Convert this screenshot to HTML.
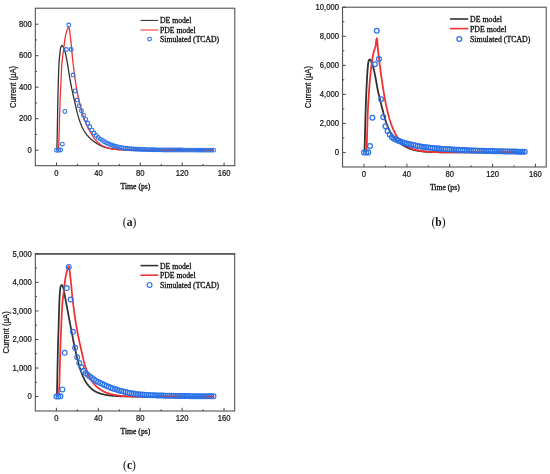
<!DOCTYPE html>
<html><head><meta charset="utf-8"><title>Figure</title>
<style>html,body{margin:0;padding:0;background:#fff}svg{display:block}</style>
</head><body>
<svg width="550" height="474" viewBox="0 0 550 474">
<rect width="550" height="474" fill="#fff"/>
<g>
<path d="M56.81 150.2 L56.92 147.39 L57.02 143.94 L57.13 139.66 L57.23 134.61 L57.34 129.14 L57.44 123.59 L57.54 117.78 L57.65 111.56 L57.75 105.47 L57.86 100.05 L57.96 95.33 L58.06 90.91 L58.17 86.8 L58.27 83.02 L58.38 79.57 L58.48 76.34 L58.59 73.2 L58.69 70.22 L58.79 67.48 L58.9 65.05 L59 63.01 L59.11 61.42 L59.21 60.07 L59.32 58.88 L59.42 57.81 L59.52 56.84 L59.63 55.94 L59.73 55.07 L59.84 54.21 L59.94 53.32 L60.05 52.37 L60.15 51.37 L60.25 50.39 L60.36 49.49 L60.46 48.74 L60.57 48.21 L60.67 47.86 L60.77 47.53 L60.88 47.23 L60.98 46.94 L61.09 46.67 L61.19 46.43 L61.3 46.22 L61.4 46.04 L61.5 45.89 L61.61 45.76 L61.71 45.68 L61.82 45.63 L61.92 45.62 L62.03 45.64 L62.13 45.68 L62.23 45.73 L62.34 45.81 L62.44 45.9 L62.55 46.01 L62.65 46.13 L62.76 46.27 L62.86 46.42 L62.96 46.58 L63.07 46.75 L63.17 46.92 L63.28 47.11 L63.38 47.29 L63.48 47.49 L63.59 47.68 L63.69 47.88 L63.8 48.07 L63.9 48.28 L64.01 48.5 L64.11 48.75 L64.21 49.03 L64.32 49.32 L64.42 49.63 L64.53 49.97 L64.63 50.31 L64.74 50.67 L64.84 51.04 L64.94 51.42 L65.05 51.81 L65.15 52.21 L65.26 52.61 L65.36 53.01 L65.46 53.42 L65.57 53.85 L65.67 54.29 L65.78 54.75 L65.88 55.23 L65.99 55.72 L66.09 56.22 L66.19 56.74 L66.3 57.26 L66.4 57.8 L66.51 58.34 L66.61 58.9 L66.72 59.45 L66.82 60.02 L66.92 60.58 L67.03 61.15 L67.13 61.72 L67.24 62.29 L67.34 62.87 L67.45 63.47 L67.55 64.08 L67.65 64.7 L67.76 65.34 L67.86 65.98 L67.97 66.64 L68.07 67.3 L68.17 67.97 L68.28 68.64 L68.38 69.31 L68.49 69.99 L68.59 70.68 L68.7 71.36 L68.8 72.04 L68.9 72.72 L69.01 73.4 L69.11 74.07 L69.22 74.74 L69.32 75.4 L69.43 76.05 L69.53 76.7 L69.63 77.33 L69.74 77.95 L69.84 78.57 L69.95 79.16 L70.05 79.75 L70.16 80.32 L70.26 80.88 L70.36 81.43 L70.47 81.99 L70.57 82.53 L70.68 83.08 L70.78 83.62 L70.88 84.15 L70.99 84.68 L71.09 85.21 L71.2 85.74 L71.3 86.26 L71.41 86.77 L71.51 87.29 L71.61 87.8 L71.72 88.3 L71.82 88.8 L71.93 89.3 L72.03 89.8 L72.14 90.3 L72.24 90.79 L72.34 91.28 L72.45 91.76 L72.55 92.25 L72.66 92.73 L72.76 93.21 L72.86 93.68 L72.97 94.16 L73.07 94.63 L73.18 95.1 L73.28 95.57 L73.39 96.04 L73.49 96.5 L73.59 96.97 L73.7 97.43 L73.8 97.89 L73.91 98.35 L74.01 98.81 L74.12 99.27 L74.22 99.73 L74.32 100.19 L74.43 100.64 L74.53 101.1 L74.64 101.56 L74.74 102.02 L74.85 102.48 L74.95 102.94 L75.05 103.4 L75.16 103.86 L75.26 104.32 L75.37 104.78 L75.47 105.24 L75.57 105.7 L75.68 106.15 L75.78 106.6 L75.89 107.06 L75.99 107.51 L76.1 107.96 L76.2 108.4 L76.3 108.85 L76.41 109.29 L76.51 109.72 L76.62 110.16 L76.72 110.59 L76.83 111.02 L76.93 111.44 L77.03 111.86 L77.14 112.28 L77.24 112.69 L77.35 113.1 L77.45 113.5 L77.56 113.9 L77.66 114.29 L77.76 114.68 L77.87 115.06 L77.97 115.44 L78.08 115.81 L78.18 116.17 L78.28 116.53 L78.39 116.88 L78.49 117.23 L78.6 117.56 L78.7 117.9 L78.81 118.22 L78.91 118.54 L79.01 118.86 L79.12 119.18 L79.22 119.49 L79.33 119.8 L79.43 120.11 L79.54 120.42 L79.64 120.72 L79.74 121.02 L79.85 121.31 L79.95 121.61 L80.06 121.9 L80.16 122.19 L80.26 122.47 L80.37 122.75 L80.47 123.03 L80.58 123.3 L80.68 123.57 L80.79 123.84 L80.89 124.11 L80.99 124.37 L81.1 124.63 L81.2 124.88 L81.31 125.13 L81.41 125.38 L81.52 125.63 L81.62 125.87 L81.72 126.11 L81.83 126.34 L81.93 126.58 L82.04 126.8 L82.14 127.03 L82.25 127.25 L82.35 127.47 L82.45 127.68 L82.56 127.89 L82.66 128.1 L82.77 128.3 L82.87 128.51 L82.97 128.71 L83.08 128.91 L83.18 129.1 L83.29 129.3 L83.39 129.49 L83.5 129.68 L83.6 129.87 L83.7 130.06 L83.81 130.25 L83.91 130.43 L84.02 130.62 L84.12 130.8 L84.23 130.98 L84.33 131.15 L84.43 131.33 L84.54 131.5 L84.64 131.67 L84.75 131.84 L84.85 132.01 L84.95 132.18 L85.06 132.34 L85.16 132.51 L85.27 132.67 L85.37 132.82 L85.48 132.98 L85.58 133.14 L85.68 133.29 L85.79 133.44 L85.89 133.59 L86 133.73 L86.1 133.88 L86.21 134.02 L86.31 134.16 L86.41 134.3 L86.52 134.44 L86.62 134.57 L86.73 134.71 L86.83 134.84 L86.94 134.97 L87.04 135.09 L87.14 135.22 L87.25 135.34 L87.35 135.46 L87.46 135.58 L87.56 135.7 L87.66 135.81 L87.77 135.93 L87.87 136.05 L87.98 136.16 L88.08 136.28 L88.19 136.39 L88.29 136.5 L88.39 136.61 L88.5 136.72 L88.6 136.83 L88.71 136.94 L88.81 137.05 L88.92 137.16 L89.02 137.27 L89.12 137.37 L89.23 137.48 L89.33 137.58 L89.44 137.68 L89.54 137.79 L89.65 137.89 L89.75 137.99 L89.85 138.09 L89.96 138.19 L90.06 138.29 L90.17 138.38 L90.27 138.48 L90.37 138.58 L90.48 138.67 L90.58 138.77 L90.69 138.86 L90.79 138.96 L90.9 139.05 L91 139.14 L91.1 139.23 L91.21 139.33 L91.31 139.42 L91.42 139.51 L91.52 139.59 L91.63 139.68 L91.73 139.77 L91.83 139.86 L91.94 139.94 L92.04 140.03 L92.15 140.12 L92.25 140.2 L92.35 140.29 L92.46 140.37 L92.56 140.45 L92.67 140.53 L92.77 140.62 L92.88 140.7 L92.98 140.78 L93.08 140.86 L93.19 140.94 L93.29 141.02 L93.4 141.1 L93.5 141.18 L93.61 141.25 L93.71 141.33 L93.81 141.41 L93.92 141.48 L94.02 141.56 L94.13 141.64 L94.23 141.71 L94.34 141.79 L94.44 141.86 L94.54 141.93 L94.65 142.01 L94.75 142.08 L94.86 142.15 L94.96 142.22 L95.06 142.3 L95.17 142.37 L95.27 142.44 L95.38 142.51 L95.48 142.58 L95.59 142.65 L95.69 142.72 L95.79 142.79 L95.9 142.86 L96 142.93 L96.11 142.99 L96.21 143.06 L96.32 143.13 L96.42 143.2 L96.52 143.27 L96.63 143.33 L96.73 143.4 L96.84 143.46 L96.94 143.53 L97.05 143.6 L97.15 143.66 L97.25 143.73 L97.36 143.79 L97.46 143.85 L97.57 143.92 L97.67 143.98 L97.77 144.04 L97.88 144.1 L97.98 144.17 L98.09 144.23 L98.19 144.29 L98.3 144.35 L98.4 144.41 L98.61 144.53 L98.99 144.74 L99.38 144.95 L99.76 145.15 L100.15 145.34 L100.53 145.53 L100.92 145.71 L101.3 145.88 L101.69 146.04 L102.07 146.19 L102.46 146.34 L102.84 146.49 L103.23 146.63 L103.61 146.77 L103.99 146.91 L104.38 147.04 L104.76 147.17 L105.15 147.3 L105.53 147.42 L105.92 147.54 L106.3 147.65 L106.69 147.76 L107.07 147.86 L107.46 147.96 L107.84 148.05 L108.23 148.14 L108.61 148.22 L109 148.29 L109.38 148.36 L109.76 148.43 L110.15 148.5 L110.53 148.56 L110.92 148.63 L111.3 148.69 L111.69 148.75 L112.07 148.81 L112.46 148.87 L112.84 148.92 L113.23 148.98 L113.61 149.03 L114 149.08 L114.38 149.13 L114.77 149.18 L115.15 149.22 L115.53 149.27 L115.92 149.31 L116.3 149.35 L116.69 149.38 L117.07 149.42 L117.46 149.45 L117.84 149.48 L118.23 149.51 L118.61 149.53 L119 149.55 L119.38 149.57 L119.77 149.59 L120.15 149.61 L120.54 149.62 L120.92 149.64 L121.3 149.66 L121.69 149.67 L122.07 149.69 L122.46 149.71 L122.84 149.72 L123.23 149.74 L123.61 149.75 L124 149.77 L124.38 149.78 L124.77 149.8 L125.15 149.81 L125.54 149.83 L125.92 149.84 L126.31 149.85 L126.69 149.87 L127.07 149.88 L127.46 149.89 L127.84 149.9 L128.23 149.92 L128.61 149.93 L129 149.94 L129.38 149.95 L129.77 149.96 L130.15 149.97 L130.54 149.98 L130.92 149.99 L131.31 150 L131.69 150.01 L132.08 150.02 L132.46 150.03 L132.84 150.03 L133.23 150.04 L133.61 150.05 L134 150.06 L134.38 150.06 L134.77 150.07 L135.15 150.08 L135.54 150.08 L135.92 150.09 L136.31 150.09 L136.69 150.1 L137.08 150.1 L137.46 150.1 L137.85 150.11 L138.23 150.11 L138.61 150.11 L139 150.12 L139.38 150.12 L139.77 150.12 L140.15 150.12 L140.54 150.12 L140.92 150.12 L141.31 150.12 L141.69 150.12 L142.08 150.13 L142.46 150.13 L142.85 150.13 L143.23 150.13 L143.62 150.13 L144 150.13 L144.38 150.13 L144.77 150.13 L145.15 150.13 L145.54 150.13 L145.92 150.13 L146.31 150.14 L146.69 150.14 L147.08 150.14 L147.46 150.14 L147.85 150.14 L148.23 150.14 L148.62 150.14 L149 150.14 L149.39 150.14 L149.77 150.14 L150.15 150.14 L150.54 150.14 L150.92 150.15 L151.31 150.15 L151.69 150.15 L152.08 150.15 L152.46 150.15 L152.85 150.15 L153.23 150.15 L153.62 150.15 L154 150.15 L154.39 150.15 L154.77 150.15 L155.16 150.15 L155.54 150.15 L155.92 150.15 L156.31 150.16 L156.69 150.16 L157.08 150.16 L157.46 150.16 L157.85 150.16 L158.23 150.16 L158.62 150.16 L159 150.16 L159.39 150.16 L159.77 150.16 L160.16 150.16 L160.54 150.16 L160.93 150.16 L161.31 150.16 L161.69 150.16 L162.08 150.16 L162.46 150.17 L162.85 150.17 L163.23 150.17 L163.62 150.17 L164 150.17 L164.39 150.17 L164.77 150.17 L165.16 150.17 L165.54 150.17 L165.93 150.17 L166.31 150.17 L166.7 150.17 L167.08 150.17 L167.46 150.17 L167.85 150.17 L168.23 150.17 L168.62 150.17 L169 150.17 L169.39 150.17 L169.77 150.18 L170.16 150.18 L170.54 150.18 L170.93 150.18 L171.31 150.18 L171.7 150.18 L172.08 150.18 L172.47 150.18 L172.85 150.18 L173.23 150.18 L173.62 150.18 L174 150.18 L174.39 150.18 L174.77 150.18 L175.16 150.18 L175.54 150.18 L175.93 150.18 L176.31 150.18 L176.7 150.18 L177.08 150.18 L177.47 150.18 L177.85 150.18 L178.24 150.18 L178.62 150.19 L179 150.19 L179.39 150.19 L179.77 150.19 L180.16 150.19 L180.54 150.19 L180.93 150.19 L181.31 150.19 L181.7 150.19 L182.08 150.19 L182.47 150.19 L182.85 150.19 L183.24 150.19 L183.62 150.19 L184.01 150.19 L184.39 150.19 L184.77 150.19 L185.16 150.19 L185.54 150.19 L185.93 150.19 L186.31 150.19 L186.7 150.19 L187.08 150.19 L187.47 150.19 L187.85 150.19 L188.24 150.19 L188.62 150.19 L189.01 150.19 L189.39 150.19 L189.78 150.19 L190.16 150.19 L190.54 150.19 L190.93 150.19 L191.31 150.19 L191.7 150.19 L192.08 150.19 L192.47 150.19 L192.85 150.2 L193.24 150.2 L193.62 150.2 L194.01 150.2 L194.39 150.2 L194.78 150.2 L195.16 150.2 L195.55 150.2 L195.93 150.2 L196.31 150.2 L196.7 150.2 L197.08 150.2 L197.47 150.2 L197.85 150.2 L198.24 150.2 L198.62 150.2 L199.01 150.2 L199.39 150.2 L199.78 150.2 L200.16 150.2 L200.55 150.2 L200.93 150.2 L201.32 150.2 L201.7 150.2 L202.08 150.2 L202.47 150.2 L202.85 150.2 L203.24 150.2 L203.62 150.2 L204.01 150.2 L204.39 150.2 L204.78 150.2 L205.16 150.2 L205.55 150.2 L205.93 150.2 L206.32 150.2 L206.7 150.2 L207.09 150.2 L207.47 150.2 L207.85 150.2 L208.24 150.2 L208.62 150.2 L209.01 150.2 L209.39 150.2 L209.78 150.2 L210.16 150.2 L210.55 150.2 L210.93 150.2 L211.32 150.2 L211.7 150.2 L212.09 150.2 L212.47 150.2 L212.86 150.2 L213.24 150.2 L213.63 150.2" fill="none" stroke="#303030" stroke-width="1.3" stroke-linejoin="round"/>
<path d="M58.59 150.2 L58.69 147.02 L58.79 143.83 L58.89 140.61 L58.99 137.31 L59.09 133.91 L59.19 130.42 L59.29 126.88 L59.39 123.32 L59.49 119.78 L59.59 116.29 L59.69 112.87 L59.79 109.58 L59.89 106.43 L59.99 103.46 L60.09 100.7 L60.19 98.16 L60.29 95.78 L60.39 93.52 L60.49 91.36 L60.59 89.28 L60.69 87.24 L60.79 85.24 L60.89 83.24 L60.99 81.21 L61.09 79.11 L61.19 76.93 L61.29 74.71 L61.39 72.52 L61.49 70.41 L61.59 68.43 L61.69 66.64 L61.79 65.09 L61.89 63.82 L61.99 62.66 L62.09 61.57 L62.19 60.56 L62.29 59.61 L62.39 58.71 L62.49 57.86 L62.59 57.05 L62.69 56.27 L62.78 55.53 L62.88 54.8 L62.98 54.09 L63.08 53.38 L63.18 52.67 L63.28 51.96 L63.38 51.24 L63.48 50.49 L63.58 49.72 L63.68 48.91 L63.78 48.09 L63.88 47.25 L63.98 46.4 L64.08 45.55 L64.18 44.7 L64.28 43.86 L64.38 43.03 L64.48 42.22 L64.58 41.44 L64.68 40.69 L64.78 39.98 L64.88 39.31 L64.98 38.68 L65.08 38.11 L65.18 37.59 L65.28 37.07 L65.38 36.57 L65.48 36.08 L65.58 35.61 L65.68 35.15 L65.78 34.7 L65.88 34.27 L65.98 33.86 L66.08 33.46 L66.18 33.07 L66.28 32.69 L66.38 32.34 L66.48 31.99 L66.58 31.66 L66.68 31.35 L66.78 31.05 L66.88 30.77 L66.97 30.5 L67.07 30.24 L67.17 29.97 L67.27 29.7 L67.37 29.43 L67.47 29.16 L67.57 28.9 L67.67 28.65 L67.77 28.4 L67.87 28.17 L67.97 27.95 L68.07 27.75 L68.17 27.57 L68.27 27.41 L68.37 27.28 L68.47 27.17 L68.57 27.09 L68.67 27.05 L68.77 27.04 L68.87 27.11 L68.97 27.3 L69.07 27.6 L69.17 27.98 L69.27 28.46 L69.37 29.01 L69.47 29.62 L69.57 30.3 L69.67 31.02 L69.77 31.79 L69.87 32.59 L69.97 33.41 L70.07 34.24 L70.17 35.07 L70.27 35.91 L70.37 36.73 L70.47 37.52 L70.57 38.29 L70.67 39.09 L70.77 39.94 L70.87 40.83 L70.97 41.76 L71.07 42.72 L71.17 43.72 L71.26 44.74 L71.36 45.79 L71.46 46.85 L71.56 47.93 L71.66 49.01 L71.76 50.1 L71.86 51.19 L71.96 52.28 L72.06 53.36 L72.16 54.43 L72.26 55.48 L72.36 56.51 L72.46 57.51 L72.56 58.49 L72.66 59.43 L72.76 60.33 L72.86 61.22 L72.96 62.09 L73.06 62.96 L73.16 63.81 L73.26 64.66 L73.36 65.5 L73.46 66.32 L73.56 67.14 L73.66 67.95 L73.76 68.75 L73.86 69.55 L73.96 70.33 L74.06 71.11 L74.16 71.88 L74.26 72.65 L74.36 73.4 L74.46 74.15 L74.56 74.9 L74.66 75.64 L74.76 76.38 L74.86 77.11 L74.96 77.84 L75.06 78.57 L75.16 79.29 L75.26 80 L75.36 80.71 L75.45 81.4 L75.55 82.09 L75.65 82.78 L75.75 83.45 L75.85 84.11 L75.95 84.76 L76.05 85.39 L76.15 86.02 L76.25 86.63 L76.35 87.22 L76.45 87.8 L76.55 88.38 L76.65 88.94 L76.75 89.5 L76.85 90.05 L76.95 90.59 L77.05 91.12 L77.15 91.65 L77.25 92.17 L77.35 92.69 L77.45 93.2 L77.55 93.7 L77.65 94.2 L77.75 94.69 L77.85 95.17 L77.95 95.65 L78.05 96.13 L78.15 96.6 L78.25 97.07 L78.35 97.54 L78.45 98 L78.55 98.45 L78.65 98.91 L78.75 99.36 L78.85 99.81 L78.95 100.25 L79.05 100.7 L79.15 101.14 L79.25 101.58 L79.35 102.02 L79.45 102.45 L79.55 102.89 L79.64 103.32 L79.74 103.74 L79.84 104.17 L79.94 104.59 L80.04 105.01 L80.14 105.42 L80.24 105.84 L80.34 106.24 L80.44 106.65 L80.54 107.05 L80.64 107.45 L80.74 107.84 L80.84 108.23 L80.94 108.62 L81.04 109 L81.14 109.37 L81.24 109.75 L81.34 110.11 L81.44 110.48 L81.54 110.83 L81.64 111.19 L81.74 111.53 L81.84 111.87 L81.94 112.21 L82.04 112.54 L82.14 112.87 L82.24 113.2 L82.34 113.53 L82.44 113.85 L82.54 114.17 L82.64 114.49 L82.74 114.8 L82.84 115.11 L82.94 115.42 L83.04 115.73 L83.14 116.03 L83.24 116.34 L83.34 116.63 L83.44 116.93 L83.54 117.22 L83.64 117.51 L83.73 117.8 L83.83 118.09 L83.93 118.37 L84.03 118.65 L84.13 118.93 L84.23 119.2 L84.33 119.47 L84.43 119.74 L84.53 120.01 L84.63 120.27 L84.73 120.53 L84.83 120.79 L84.93 121.04 L85.03 121.3 L85.13 121.54 L85.23 121.79 L85.33 122.04 L85.43 122.28 L85.53 122.52 L85.63 122.75 L85.73 122.99 L85.83 123.22 L85.93 123.45 L86.03 123.68 L86.13 123.9 L86.23 124.13 L86.33 124.35 L86.43 124.57 L86.53 124.79 L86.63 125.01 L86.73 125.22 L86.83 125.44 L86.93 125.65 L87.03 125.86 L87.13 126.07 L87.23 126.28 L87.33 126.48 L87.43 126.69 L87.53 126.89 L87.63 127.09 L87.73 127.29 L87.83 127.49 L87.93 127.69 L88.02 127.88 L88.12 128.08 L88.22 128.27 L88.32 128.46 L88.42 128.65 L88.52 128.84 L88.62 129.03 L88.72 129.22 L88.82 129.4 L88.92 129.59 L89.02 129.77 L89.12 129.96 L89.22 130.14 L89.32 130.32 L89.42 130.5 L89.52 130.68 L89.62 130.86 L89.72 131.04 L89.82 131.21 L89.92 131.39 L90.02 131.56 L90.12 131.74 L90.22 131.91 L90.32 132.09 L90.42 132.26 L90.52 132.43 L90.62 132.6 L90.72 132.78 L90.82 132.95 L90.92 133.12 L91.02 133.29 L91.12 133.46 L91.22 133.63 L91.32 133.8 L91.42 133.97 L91.52 134.13 L91.62 134.3 L91.72 134.46 L91.82 134.63 L91.92 134.79 L92.02 134.96 L92.12 135.12 L92.21 135.28 L92.31 135.44 L92.41 135.6 L92.51 135.76 L92.61 135.91 L92.71 136.07 L92.81 136.23 L92.91 136.38 L93.01 136.53 L93.11 136.68 L93.21 136.83 L93.31 136.98 L93.41 137.13 L93.51 137.27 L93.61 137.42 L93.71 137.56 L93.81 137.7 L93.91 137.84 L94.01 137.97 L94.11 138.11 L94.21 138.24 L94.31 138.38 L94.41 138.51 L94.51 138.64 L94.61 138.76 L94.71 138.89 L94.81 139.01 L94.91 139.13 L95.01 139.25 L95.11 139.37 L95.21 139.49 L95.31 139.61 L95.41 139.72 L95.51 139.84 L95.61 139.95 L95.71 140.07 L95.81 140.18 L95.91 140.29 L96.01 140.4 L96.11 140.51 L96.21 140.62 L96.31 140.73 L96.4 140.84 L96.5 140.94 L96.6 141.05 L96.7 141.15 L96.8 141.26 L96.9 141.36 L97 141.46 L97.1 141.56 L97.2 141.66 L97.3 141.76 L97.4 141.86 L97.5 141.96 L97.6 142.05 L97.7 142.15 L97.8 142.24 L97.9 142.34 L98 142.43 L98.1 142.52 L98.2 142.61 L98.3 142.7 L98.4 142.79 L98.61 142.97 L98.99 143.3 L99.38 143.61 L99.76 143.9 L100.15 144.19 L100.53 144.46 L100.92 144.74 L101.3 145 L101.69 145.25 L102.07 145.5 L102.46 145.73 L102.84 145.95 L103.23 146.16 L103.61 146.36 L103.99 146.54 L104.38 146.7 L104.76 146.85 L105.15 146.99 L105.53 147.13 L105.92 147.27 L106.3 147.41 L106.69 147.54 L107.07 147.67 L107.46 147.8 L107.84 147.92 L108.23 148.04 L108.61 148.15 L109 148.26 L109.38 148.37 L109.76 148.47 L110.15 148.57 L110.53 148.66 L110.92 148.75 L111.3 148.83 L111.69 148.91 L112.07 148.98 L112.46 149.05 L112.84 149.11 L113.23 149.17 L113.61 149.22 L114 149.27 L114.38 149.31 L114.77 149.35 L115.15 149.39 L115.53 149.43 L115.92 149.47 L116.3 149.51 L116.69 149.55 L117.07 149.59 L117.46 149.62 L117.84 149.65 L118.23 149.68 L118.61 149.72 L119 149.74 L119.38 149.77 L119.77 149.8 L120.15 149.82 L120.54 149.84 L120.92 149.87 L121.3 149.89 L121.69 149.9 L122.07 149.92 L122.46 149.93 L122.84 149.95 L123.23 149.96 L123.61 149.97 L124 149.97 L124.38 149.98 L124.77 149.99 L125.15 150 L125.54 150 L125.92 150.01 L126.31 150.02 L126.69 150.02 L127.07 150.03 L127.46 150.04 L127.84 150.04 L128.23 150.05 L128.61 150.06 L129 150.06 L129.38 150.07 L129.77 150.07 L130.15 150.08 L130.54 150.08 L130.92 150.09 L131.31 150.09 L131.69 150.1 L132.08 150.1 L132.46 150.1 L132.84 150.11 L133.23 150.11 L133.61 150.12 L134 150.12 L134.38 150.12 L134.77 150.13 L135.15 150.13 L135.54 150.13 L135.92 150.13 L136.31 150.14 L136.69 150.14 L137.08 150.14 L137.46 150.14 L137.85 150.15 L138.23 150.15 L138.61 150.15 L139 150.15 L139.38 150.15 L139.77 150.15 L140.15 150.15 L140.54 150.15 L140.92 150.15 L141.31 150.15 L141.69 150.15 L142.08 150.16 L142.46 150.16 L142.85 150.16 L143.23 150.16 L143.62 150.16 L144 150.16 L144.38 150.16 L144.77 150.16 L145.15 150.16 L145.54 150.16 L145.92 150.16 L146.31 150.16 L146.69 150.16 L147.08 150.16 L147.46 150.16 L147.85 150.16 L148.23 150.16 L148.62 150.16 L149 150.16 L149.39 150.17 L149.77 150.17 L150.15 150.17 L150.54 150.17 L150.92 150.17 L151.31 150.17 L151.69 150.17 L152.08 150.17 L152.46 150.17 L152.85 150.17 L153.23 150.17 L153.62 150.17 L154 150.17 L154.39 150.17 L154.77 150.17 L155.16 150.17 L155.54 150.17 L155.92 150.17 L156.31 150.17 L156.69 150.17 L157.08 150.17 L157.46 150.17 L157.85 150.17 L158.23 150.18 L158.62 150.18 L159 150.18 L159.39 150.18 L159.77 150.18 L160.16 150.18 L160.54 150.18 L160.93 150.18 L161.31 150.18 L161.69 150.18 L162.08 150.18 L162.46 150.18 L162.85 150.18 L163.23 150.18 L163.62 150.18 L164 150.18 L164.39 150.18 L164.77 150.18 L165.16 150.18 L165.54 150.18 L165.93 150.18 L166.31 150.18 L166.7 150.18 L167.08 150.18 L167.46 150.18 L167.85 150.18 L168.23 150.18 L168.62 150.18 L169 150.18 L169.39 150.19 L169.77 150.19 L170.16 150.19 L170.54 150.19 L170.93 150.19 L171.31 150.19 L171.7 150.19 L172.08 150.19 L172.47 150.19 L172.85 150.19 L173.23 150.19 L173.62 150.19 L174 150.19 L174.39 150.19 L174.77 150.19 L175.16 150.19 L175.54 150.19 L175.93 150.19 L176.31 150.19 L176.7 150.19 L177.08 150.19 L177.47 150.19 L177.85 150.19 L178.24 150.19 L178.62 150.19 L179 150.19 L179.39 150.19 L179.77 150.19 L180.16 150.19 L180.54 150.19 L180.93 150.19 L181.31 150.19 L181.7 150.19 L182.08 150.19 L182.47 150.19 L182.85 150.19 L183.24 150.19 L183.62 150.19 L184.01 150.19 L184.39 150.19 L184.77 150.19 L185.16 150.19 L185.54 150.19 L185.93 150.19 L186.31 150.19 L186.7 150.19 L187.08 150.2 L187.47 150.2 L187.85 150.2 L188.24 150.2 L188.62 150.2 L189.01 150.2 L189.39 150.2 L189.78 150.2 L190.16 150.2 L190.54 150.2 L190.93 150.2 L191.31 150.2 L191.7 150.2 L192.08 150.2 L192.47 150.2 L192.85 150.2 L193.24 150.2 L193.62 150.2 L194.01 150.2 L194.39 150.2 L194.78 150.2 L195.16 150.2 L195.55 150.2 L195.93 150.2 L196.31 150.2 L196.7 150.2 L197.08 150.2 L197.47 150.2 L197.85 150.2 L198.24 150.2 L198.62 150.2 L199.01 150.2 L199.39 150.2 L199.78 150.2 L200.16 150.2 L200.55 150.2 L200.93 150.2 L201.32 150.2 L201.7 150.2 L202.08 150.2 L202.47 150.2 L202.85 150.2 L203.24 150.2 L203.62 150.2 L204.01 150.2 L204.39 150.2 L204.78 150.2 L205.16 150.2 L205.55 150.2 L205.93 150.2 L206.32 150.2 L206.7 150.2 L207.09 150.2 L207.47 150.2 L207.85 150.2 L208.24 150.2 L208.62 150.2 L209.01 150.2 L209.39 150.2 L209.78 150.2 L210.16 150.2 L210.55 150.2 L210.93 150.2 L211.32 150.2 L211.7 150.2 L212.09 150.2 L212.47 150.2 L212.86 150.2 L213.24 150.2 L213.63 150.2" fill="none" stroke="#f23030" stroke-width="1.3" stroke-linejoin="round"/>
<g fill="#fff" fill-opacity="0.0" stroke="#2b72e6" stroke-width="1.1">
<circle cx="56.5" cy="150.2" r="1.9"/>
<circle cx="58.59" cy="150.2" r="1.9"/>
<circle cx="60.59" cy="150.04" r="1.9"/>
<circle cx="62.37" cy="144.21" r="1.9"/>
<circle cx="64.78" cy="111.45" r="1.9"/>
<circle cx="66.45" cy="49.56" r="1.9"/>
<circle cx="68.76" cy="24.99" r="1.9"/>
<circle cx="71.17" cy="49.56" r="1.9"/>
<circle cx="73.05" cy="75.07" r="1.9"/>
<circle cx="75.15" cy="90.96" r="1.9"/>
<circle cx="77.25" cy="100.05" r="1.9"/>
<circle cx="79.34" cy="105.76" r="1.9"/>
<circle cx="81.44" cy="110.77" r="1.9"/>
<circle cx="83.54" cy="115.21" r="1.9"/>
<circle cx="85.64" cy="119.37" r="1.9"/>
<circle cx="87.74" cy="123.28" r="1.9"/>
<circle cx="89.84" cy="126.75" r="1.9"/>
<circle cx="91.93" cy="130.08" r="1.9"/>
<circle cx="94.03" cy="133.07" r="1.9"/>
<circle cx="96.13" cy="135.5" r="1.9"/>
<circle cx="98.23" cy="137.54" r="1.9"/>
<circle cx="100.33" cy="139.09" r="1.9"/>
<circle cx="102.42" cy="140.42" r="1.9"/>
<circle cx="104.52" cy="141.71" r="1.9"/>
<circle cx="106.62" cy="142.88" r="1.9"/>
<circle cx="108.72" cy="143.9" r="1.9"/>
<circle cx="110.82" cy="144.75" r="1.9"/>
<circle cx="112.91" cy="145.49" r="1.9"/>
<circle cx="115.01" cy="146.13" r="1.9"/>
<circle cx="117.11" cy="146.69" r="1.9"/>
<circle cx="119.21" cy="147.18" r="1.9"/>
<circle cx="121.31" cy="147.61" r="1.9"/>
<circle cx="123.41" cy="147.97" r="1.9"/>
<circle cx="125.5" cy="148.3" r="1.9"/>
<circle cx="127.6" cy="148.57" r="1.9"/>
<circle cx="129.7" cy="148.77" r="1.9"/>
<circle cx="131.8" cy="148.93" r="1.9"/>
<circle cx="133.9" cy="149.07" r="1.9"/>
<circle cx="135.99" cy="149.19" r="1.9"/>
<circle cx="138.09" cy="149.29" r="1.9"/>
<circle cx="140.19" cy="149.38" r="1.9"/>
<circle cx="142.29" cy="149.46" r="1.9"/>
<circle cx="144.39" cy="149.54" r="1.9"/>
<circle cx="146.48" cy="149.6" r="1.9"/>
<circle cx="148.58" cy="149.66" r="1.9"/>
<circle cx="150.68" cy="149.72" r="1.9"/>
<circle cx="152.78" cy="149.77" r="1.9"/>
<circle cx="154.88" cy="149.81" r="1.9"/>
<circle cx="156.98" cy="149.85" r="1.9"/>
<circle cx="159.07" cy="149.88" r="1.9"/>
<circle cx="161.17" cy="149.91" r="1.9"/>
<circle cx="163.27" cy="149.93" r="1.9"/>
<circle cx="165.37" cy="149.95" r="1.9"/>
<circle cx="167.47" cy="149.97" r="1.9"/>
<circle cx="169.56" cy="149.99" r="1.9"/>
<circle cx="171.66" cy="150" r="1.9"/>
<circle cx="173.76" cy="150.02" r="1.9"/>
<circle cx="175.86" cy="150.03" r="1.9"/>
<circle cx="177.96" cy="150.05" r="1.9"/>
<circle cx="180.05" cy="150.06" r="1.9"/>
<circle cx="182.15" cy="150.07" r="1.9"/>
<circle cx="184.25" cy="150.08" r="1.9"/>
<circle cx="186.35" cy="150.09" r="1.9"/>
<circle cx="188.45" cy="150.1" r="1.9"/>
<circle cx="190.55" cy="150.11" r="1.9"/>
<circle cx="192.64" cy="150.11" r="1.9"/>
<circle cx="194.74" cy="150.12" r="1.9"/>
<circle cx="196.84" cy="150.13" r="1.9"/>
<circle cx="198.94" cy="150.13" r="1.9"/>
<circle cx="201.04" cy="150.14" r="1.9"/>
<circle cx="203.13" cy="150.14" r="1.9"/>
<circle cx="205.23" cy="150.15" r="1.9"/>
<circle cx="207.33" cy="150.15" r="1.9"/>
<circle cx="209.43" cy="150.15" r="1.9"/>
<circle cx="211.53" cy="150.15" r="1.9"/>
<circle cx="213.63" cy="150.15" r="1.9"/>
</g>
<rect x="35.3" y="8.2" width="199.5" height="157.5" fill="none" stroke="#444" stroke-width="1"/>
<path d="M35.3 150.2 h3.2 M35.3 118.7 h3.2 M35.3 87.2 h3.2 M35.3 55.7 h3.2 M35.3 24.2 h3.2 M35.3 134.45 h1.7 M35.3 102.95 h1.7 M35.3 71.45 h1.7 M35.3 39.95 h1.7 M56.5 165.7 v-3.2 M98.4 165.7 v-3.2 M140.3 165.7 v-3.2 M182.2 165.7 v-3.2 M224.1 165.7 v-3.2 M77.45 165.7 v-1.7 M119.35 165.7 v-1.7 M161.25 165.7 v-1.7 M203.15 165.7 v-1.7" stroke="#444" stroke-width="1" fill="none"/>
<g font-family="'Liberation Sans', Arial, sans-serif" font-size="8.5" fill="#111" stroke="#111" stroke-width="0.22">
<text transform="translate(31.7 152.95) scale(0.9 1)" text-anchor="end">0</text>
<text transform="translate(31.7 121.45) scale(0.9 1)" text-anchor="end">200</text>
<text transform="translate(31.7 89.95) scale(0.9 1)" text-anchor="end">400</text>
<text transform="translate(31.7 58.45) scale(0.9 1)" text-anchor="end">600</text>
<text transform="translate(31.7 26.95) scale(0.9 1)" text-anchor="end">800</text>
<text transform="translate(56.5 175.8) scale(0.9 1)" text-anchor="middle">0</text>
<text transform="translate(98.4 175.8) scale(0.9 1)" text-anchor="middle">40</text>
<text transform="translate(140.3 175.8) scale(0.9 1)" text-anchor="middle">80</text>
<text transform="translate(182.2 175.8) scale(0.9 1)" text-anchor="middle">120</text>
<text transform="translate(224.1 175.8) scale(0.9 1)" text-anchor="middle">160</text>
<text transform="translate(15.6 86.95) rotate(-90) scale(0.9 1)" text-anchor="middle">Current (µA)</text>
</g>
<g font-family="'Liberation Serif', 'Times New Roman', serif" font-size="7.7" fill="#111" stroke="#111" stroke-width="0.3">
<text x="135.45" y="188.9" text-anchor="middle">Time (ps)</text>
<g font-size="7.7">
<text x="160" y="23.3">DE model</text>
<text x="160" y="32.9">PDE model</text>
<text x="160" y="42.1">Simulated (TCAD)</text>
</g>
</g>
<path d="M140.5 20.4 h17.7" stroke="#303030" stroke-width="1.05"/>
<path d="M140.5 30 h17.7" stroke="#f23030" stroke-width="1.05"/>
<circle cx="149.55" cy="39.1" r="1.9" fill="none" stroke="#2b72e6" stroke-width="1.1"/>
<text x="129.5" y="226" text-anchor="middle" font-family="'Liberation Serif', serif" font-size="11.5" fill="#111">(<tspan font-weight="bold">a</tspan>)</text>
</g>
<g>
<path d="M364.32 152.45 L364.43 151.38 L364.53 149.62 L364.64 147.4 L364.75 144.25 L364.85 139.94 L364.96 135.21 L365.07 130.81 L365.17 126.85 L365.28 122.92 L365.39 119.09 L365.49 115.43 L365.6 111.99 L365.71 108.77 L365.81 105.68 L365.92 102.72 L366.03 99.88 L366.13 97.18 L366.24 94.6 L366.35 92.13 L366.45 89.77 L366.56 87.49 L366.67 85.31 L366.77 83.21 L366.88 81.2 L366.99 79.28 L367.09 77.39 L367.2 75.56 L367.31 73.8 L367.41 72.14 L367.52 70.59 L367.63 69.17 L367.73 67.86 L367.84 66.6 L367.95 65.44 L368.05 64.42 L368.16 63.57 L368.27 62.88 L368.37 62.22 L368.48 61.63 L368.59 61.11 L368.69 60.71 L368.8 60.43 L368.91 60.26 L369.01 60.11 L369.12 59.97 L369.23 59.85 L369.33 59.74 L369.44 59.65 L369.55 59.59 L369.65 59.54 L369.76 59.52 L369.87 59.53 L369.97 59.58 L370.08 59.66 L370.19 59.76 L370.29 59.88 L370.4 60.02 L370.5 60.17 L370.61 60.33 L370.72 60.49 L370.82 60.66 L370.93 60.86 L371.04 61.09 L371.14 61.34 L371.25 61.61 L371.36 61.89 L371.46 62.19 L371.57 62.48 L371.68 62.76 L371.78 63.04 L371.89 63.32 L372 63.61 L372.1 63.89 L372.21 64.18 L372.32 64.47 L372.42 64.77 L372.53 65.08 L372.64 65.39 L372.74 65.71 L372.85 66.04 L372.96 66.39 L373.06 66.74 L373.17 67.11 L373.28 67.49 L373.38 67.88 L373.49 68.29 L373.6 68.71 L373.7 69.15 L373.81 69.59 L373.92 70.05 L374.02 70.51 L374.13 70.98 L374.24 71.46 L374.34 71.94 L374.45 72.43 L374.56 72.92 L374.66 73.42 L374.77 73.92 L374.88 74.42 L374.98 74.92 L375.09 75.44 L375.2 75.96 L375.3 76.5 L375.41 77.05 L375.52 77.61 L375.62 78.18 L375.73 78.76 L375.84 79.34 L375.94 79.93 L376.05 80.52 L376.16 81.12 L376.26 81.72 L376.37 82.32 L376.48 82.92 L376.58 83.52 L376.69 84.12 L376.8 84.72 L376.9 85.31 L377.01 85.9 L377.11 86.48 L377.22 87.06 L377.33 87.63 L377.43 88.19 L377.54 88.74 L377.65 89.28 L377.75 89.8 L377.86 90.32 L377.97 90.82 L378.07 91.32 L378.18 91.81 L378.29 92.29 L378.39 92.78 L378.5 93.26 L378.61 93.73 L378.71 94.2 L378.82 94.67 L378.93 95.14 L379.03 95.6 L379.14 96.06 L379.25 96.51 L379.35 96.97 L379.46 97.42 L379.57 97.86 L379.67 98.31 L379.78 98.75 L379.89 99.19 L379.99 99.62 L380.1 100.06 L380.21 100.49 L380.31 100.91 L380.42 101.34 L380.53 101.77 L380.63 102.19 L380.74 102.61 L380.85 103.03 L380.95 103.44 L381.06 103.86 L381.17 104.27 L381.27 104.69 L381.38 105.1 L381.49 105.51 L381.59 105.91 L381.7 106.32 L381.81 106.73 L381.91 107.13 L382.02 107.54 L382.13 107.94 L382.23 108.34 L382.34 108.75 L382.45 109.15 L382.55 109.56 L382.66 109.96 L382.77 110.37 L382.87 110.77 L382.98 111.18 L383.09 111.59 L383.19 111.99 L383.3 112.4 L383.41 112.8 L383.51 113.2 L383.62 113.6 L383.72 114 L383.83 114.4 L383.94 114.8 L384.04 115.2 L384.15 115.59 L384.26 115.98 L384.36 116.37 L384.47 116.75 L384.58 117.14 L384.68 117.52 L384.79 117.9 L384.9 118.27 L385 118.64 L385.11 119.01 L385.22 119.37 L385.32 119.73 L385.43 120.09 L385.54 120.44 L385.64 120.78 L385.75 121.13 L385.86 121.46 L385.96 121.79 L386.07 122.12 L386.18 122.44 L386.28 122.76 L386.39 123.07 L386.5 123.37 L386.6 123.67 L386.71 123.96 L386.82 124.25 L386.92 124.53 L387.03 124.81 L387.14 125.09 L387.24 125.37 L387.35 125.64 L387.46 125.92 L387.56 126.19 L387.67 126.45 L387.78 126.72 L387.88 126.98 L387.99 127.24 L388.1 127.49 L388.2 127.74 L388.31 127.99 L388.42 128.24 L388.52 128.49 L388.63 128.73 L388.74 128.97 L388.84 129.21 L388.95 129.44 L389.06 129.67 L389.16 129.9 L389.27 130.12 L389.38 130.34 L389.48 130.56 L389.59 130.78 L389.7 130.99 L389.8 131.2 L389.91 131.41 L390.02 131.62 L390.12 131.82 L390.23 132.02 L390.33 132.21 L390.44 132.4 L390.55 132.59 L390.65 132.78 L390.76 132.96 L390.87 133.14 L390.97 133.32 L391.08 133.5 L391.19 133.67 L391.29 133.85 L391.4 134.02 L391.51 134.19 L391.61 134.36 L391.72 134.53 L391.83 134.69 L391.93 134.86 L392.04 135.02 L392.15 135.18 L392.25 135.34 L392.36 135.5 L392.47 135.65 L392.57 135.81 L392.68 135.96 L392.79 136.11 L392.89 136.26 L393 136.41 L393.11 136.56 L393.21 136.7 L393.32 136.85 L393.43 136.99 L393.53 137.13 L393.64 137.26 L393.75 137.4 L393.85 137.54 L393.96 137.67 L394.07 137.8 L394.17 137.93 L394.28 138.06 L394.39 138.18 L394.49 138.31 L394.6 138.43 L394.71 138.55 L394.81 138.67 L394.92 138.79 L395.03 138.9 L395.13 139.01 L395.24 139.13 L395.35 139.24 L395.45 139.34 L395.56 139.45 L395.67 139.56 L395.77 139.66 L395.88 139.76 L395.99 139.87 L396.09 139.97 L396.2 140.07 L396.31 140.17 L396.41 140.27 L396.52 140.37 L396.63 140.47 L396.73 140.57 L396.84 140.66 L396.94 140.76 L397.05 140.85 L397.16 140.95 L397.26 141.04 L397.37 141.14 L397.48 141.23 L397.58 141.32 L397.69 141.41 L397.8 141.5 L397.9 141.59 L398.01 141.68 L398.12 141.77 L398.22 141.86 L398.33 141.94 L398.44 142.03 L398.54 142.12 L398.65 142.2 L398.76 142.29 L398.86 142.37 L398.97 142.45 L399.08 142.54 L399.18 142.62 L399.29 142.7 L399.4 142.78 L399.5 142.86 L399.61 142.94 L399.72 143.02 L399.82 143.1 L399.93 143.18 L400.04 143.25 L400.14 143.33 L400.25 143.41 L400.36 143.48 L400.46 143.56 L400.57 143.63 L400.68 143.71 L400.78 143.78 L400.89 143.85 L401 143.93 L401.1 144 L401.21 144.07 L401.32 144.14 L401.42 144.21 L401.53 144.28 L401.64 144.35 L401.74 144.42 L401.85 144.49 L401.96 144.56 L402.06 144.63 L402.17 144.7 L402.28 144.76 L402.38 144.83 L402.49 144.9 L402.6 144.96 L402.7 145.03 L402.81 145.09 L402.92 145.16 L403.02 145.22 L403.13 145.29 L403.24 145.35 L403.34 145.42 L403.45 145.48 L403.55 145.54 L403.66 145.61 L403.77 145.67 L403.87 145.73 L403.98 145.79 L404.09 145.85 L404.19 145.91 L404.3 145.97 L404.41 146.04 L404.51 146.1 L404.62 146.16 L404.73 146.22 L404.83 146.28 L404.94 146.33 L405.05 146.39 L405.15 146.45 L405.26 146.51 L405.37 146.57 L405.47 146.63 L405.58 146.68 L405.69 146.74 L405.79 146.8 L405.9 146.85 L406.01 146.91 L406.11 146.96 L406.22 147.02 L406.33 147.07 L406.43 147.13 L406.54 147.18 L406.65 147.24 L406.75 147.29 L406.86 147.34 L407.07 147.45 L407.47 147.64 L407.86 147.82 L408.25 148 L408.65 148.17 L409.04 148.33 L409.44 148.49 L409.83 148.64 L410.22 148.78 L410.62 148.91 L411.01 149.05 L411.4 149.17 L411.8 149.3 L412.19 149.43 L412.58 149.55 L412.98 149.67 L413.37 149.78 L413.76 149.89 L414.16 150 L414.55 150.1 L414.94 150.2 L415.34 150.3 L415.73 150.39 L416.12 150.48 L416.52 150.56 L416.91 150.63 L417.3 150.7 L417.7 150.77 L418.09 150.83 L418.49 150.89 L418.88 150.95 L419.27 151.01 L419.67 151.06 L420.06 151.12 L420.45 151.17 L420.85 151.22 L421.24 151.27 L421.63 151.32 L422.03 151.37 L422.42 151.42 L422.81 151.46 L423.21 151.51 L423.6 151.55 L423.99 151.59 L424.39 151.63 L424.78 151.66 L425.17 151.7 L425.57 151.73 L425.96 151.76 L426.35 151.79 L426.75 151.81 L427.14 151.84 L427.54 151.86 L427.93 151.88 L428.32 151.9 L428.72 151.91 L429.11 151.93 L429.5 151.94 L429.9 151.96 L430.29 151.97 L430.68 151.99 L431.08 152 L431.47 152.02 L431.86 152.03 L432.26 152.04 L432.65 152.06 L433.04 152.07 L433.44 152.08 L433.83 152.1 L434.22 152.11 L434.62 152.12 L435.01 152.13 L435.4 152.14 L435.8 152.16 L436.19 152.17 L436.59 152.18 L436.98 152.19 L437.37 152.2 L437.77 152.21 L438.16 152.22 L438.55 152.23 L438.95 152.24 L439.34 152.25 L439.73 152.26 L440.13 152.26 L440.52 152.27 L440.91 152.28 L441.31 152.29 L441.7 152.3 L442.09 152.3 L442.49 152.31 L442.88 152.32 L443.27 152.32 L443.67 152.33 L444.06 152.33 L444.45 152.34 L444.85 152.34 L445.24 152.35 L445.64 152.35 L446.03 152.36 L446.42 152.36 L446.82 152.37 L447.21 152.37 L447.6 152.37 L448 152.37 L448.39 152.38 L448.78 152.38 L449.18 152.38 L449.57 152.38 L449.96 152.38 L450.36 152.38 L450.75 152.38 L451.14 152.38 L451.54 152.38 L451.93 152.39 L452.32 152.39 L452.72 152.39 L453.11 152.39 L453.51 152.39 L453.9 152.39 L454.29 152.39 L454.69 152.39 L455.08 152.39 L455.47 152.39 L455.87 152.39 L456.26 152.39 L456.65 152.39 L457.05 152.4 L457.44 152.4 L457.83 152.4 L458.23 152.4 L458.62 152.4 L459.01 152.4 L459.41 152.4 L459.8 152.4 L460.19 152.4 L460.59 152.4 L460.98 152.4 L461.37 152.4 L461.77 152.4 L462.16 152.4 L462.56 152.4 L462.95 152.41 L463.34 152.41 L463.74 152.41 L464.13 152.41 L464.52 152.41 L464.92 152.41 L465.31 152.41 L465.7 152.41 L466.1 152.41 L466.49 152.41 L466.88 152.41 L467.28 152.41 L467.67 152.41 L468.06 152.41 L468.46 152.41 L468.85 152.41 L469.24 152.42 L469.64 152.42 L470.03 152.42 L470.42 152.42 L470.82 152.42 L471.21 152.42 L471.61 152.42 L472 152.42 L472.39 152.42 L472.79 152.42 L473.18 152.42 L473.57 152.42 L473.97 152.42 L474.36 152.42 L474.75 152.42 L475.15 152.42 L475.54 152.42 L475.93 152.42 L476.33 152.42 L476.72 152.42 L477.11 152.43 L477.51 152.43 L477.9 152.43 L478.29 152.43 L478.69 152.43 L479.08 152.43 L479.47 152.43 L479.87 152.43 L480.26 152.43 L480.66 152.43 L481.05 152.43 L481.44 152.43 L481.84 152.43 L482.23 152.43 L482.62 152.43 L483.02 152.43 L483.41 152.43 L483.8 152.43 L484.2 152.43 L484.59 152.43 L484.98 152.43 L485.38 152.43 L485.77 152.43 L486.16 152.43 L486.56 152.43 L486.95 152.44 L487.34 152.44 L487.74 152.44 L488.13 152.44 L488.52 152.44 L488.92 152.44 L489.31 152.44 L489.71 152.44 L490.1 152.44 L490.49 152.44 L490.89 152.44 L491.28 152.44 L491.67 152.44 L492.07 152.44 L492.46 152.44 L492.85 152.44 L493.25 152.44 L493.64 152.44 L494.03 152.44 L494.43 152.44 L494.82 152.44 L495.21 152.44 L495.61 152.44 L496 152.44 L496.39 152.44 L496.79 152.44 L497.18 152.44 L497.57 152.44 L497.97 152.44 L498.36 152.44 L498.76 152.44 L499.15 152.44 L499.54 152.44 L499.94 152.44 L500.33 152.44 L500.72 152.44 L501.12 152.44 L501.51 152.44 L501.9 152.44 L502.3 152.45 L502.69 152.45 L503.08 152.45 L503.48 152.45 L503.87 152.45 L504.26 152.45 L504.66 152.45 L505.05 152.45 L505.44 152.45 L505.84 152.45 L506.23 152.45 L506.62 152.45 L507.02 152.45 L507.41 152.45 L507.81 152.45 L508.2 152.45 L508.59 152.45 L508.99 152.45 L509.38 152.45 L509.77 152.45 L510.17 152.45 L510.56 152.45 L510.95 152.45 L511.35 152.45 L511.74 152.45 L512.13 152.45 L512.53 152.45 L512.92 152.45 L513.31 152.45 L513.71 152.45 L514.1 152.45 L514.49 152.45 L514.89 152.45 L515.28 152.45 L515.67 152.45 L516.07 152.45 L516.46 152.45 L516.86 152.45 L517.25 152.45 L517.64 152.45 L518.04 152.45 L518.43 152.45 L518.82 152.45 L519.22 152.45 L519.61 152.45 L520 152.45 L520.4 152.45 L520.79 152.45 L521.18 152.45 L521.58 152.45 L521.97 152.45 L522.36 152.45 L522.76 152.45 L523.15 152.45 L523.54 152.45 L523.94 152.45 L524.33 152.45 L524.73 152.45" fill="none" stroke="#303030" stroke-width="1.8" stroke-linejoin="round"/>
<path d="M366.14 152.45 L366.25 152.25 L366.35 151.76 L366.45 151.1 L366.55 150.11 L366.65 148.37 L366.76 146 L366.86 143.11 L366.96 139.81 L367.06 136.22 L367.16 132.45 L367.27 128.63 L367.37 124.87 L367.47 121.28 L367.57 117.98 L367.67 115.08 L367.78 112.69 L367.88 110.54 L367.98 108.5 L368.08 106.55 L368.18 104.69 L368.29 102.9 L368.39 101.17 L368.49 99.51 L368.59 97.89 L368.69 96.31 L368.8 94.75 L368.9 93.23 L369 91.73 L369.1 90.27 L369.2 88.85 L369.31 87.47 L369.41 86.12 L369.51 84.81 L369.61 83.55 L369.71 82.32 L369.82 81.14 L369.92 80.01 L370.02 78.9 L370.12 77.81 L370.22 76.74 L370.33 75.69 L370.43 74.67 L370.53 73.67 L370.63 72.69 L370.74 71.73 L370.84 70.8 L370.94 69.89 L371.04 69.01 L371.14 68.14 L371.25 67.31 L371.35 66.5 L371.45 65.71 L371.55 64.95 L371.65 64.2 L371.76 63.46 L371.86 62.73 L371.96 62.01 L372.06 61.3 L372.16 60.6 L372.27 59.92 L372.37 59.25 L372.47 58.59 L372.57 57.95 L372.67 57.32 L372.78 56.71 L372.88 56.12 L372.98 55.54 L373.08 54.98 L373.18 54.44 L373.29 53.92 L373.39 53.42 L373.49 52.94 L373.59 52.48 L373.69 52.05 L373.8 51.64 L373.9 51.27 L374 50.91 L374.1 50.58 L374.2 50.27 L374.31 49.97 L374.41 49.67 L374.51 49.39 L374.61 49.1 L374.71 48.82 L374.82 48.53 L374.92 48.23 L375.02 47.92 L375.12 47.59 L375.23 47.25 L375.33 46.88 L375.43 46.48 L375.53 46.05 L375.63 45.57 L375.74 44.94 L375.84 44.18 L375.94 43.35 L376.04 42.47 L376.14 41.59 L376.25 40.74 L376.35 39.96 L376.45 39.29 L376.55 38.77 L376.65 38.43 L376.76 38.32 L376.86 38.5 L376.96 38.98 L377.06 39.7 L377.16 40.63 L377.27 41.71 L377.37 42.9 L377.47 44.16 L377.57 45.43 L377.67 46.68 L377.78 47.85 L377.88 48.89 L377.98 49.8 L378.08 50.68 L378.18 51.55 L378.29 52.43 L378.39 53.3 L378.49 54.16 L378.59 55.02 L378.69 55.88 L378.8 56.73 L378.9 57.58 L379 58.43 L379.1 59.27 L379.21 60.11 L379.31 60.94 L379.41 61.77 L379.51 62.59 L379.61 63.41 L379.72 64.22 L379.82 65.03 L379.92 65.84 L380.02 66.63 L380.12 67.43 L380.23 68.22 L380.33 69 L380.43 69.78 L380.53 70.55 L380.63 71.32 L380.74 72.08 L380.84 72.83 L380.94 73.58 L381.04 74.32 L381.14 75.06 L381.25 75.79 L381.35 76.52 L381.45 77.24 L381.55 77.95 L381.65 78.65 L381.76 79.35 L381.86 80.04 L381.96 80.73 L382.06 81.42 L382.16 82.1 L382.27 82.78 L382.37 83.46 L382.47 84.13 L382.57 84.81 L382.67 85.48 L382.78 86.14 L382.88 86.81 L382.98 87.47 L383.08 88.13 L383.18 88.78 L383.29 89.43 L383.39 90.08 L383.49 90.72 L383.59 91.36 L383.7 91.99 L383.8 92.62 L383.9 93.24 L384 93.86 L384.1 94.48 L384.21 95.08 L384.31 95.69 L384.41 96.28 L384.51 96.87 L384.61 97.46 L384.72 98.04 L384.82 98.61 L384.92 99.18 L385.02 99.73 L385.12 100.29 L385.23 100.83 L385.33 101.37 L385.43 101.9 L385.53 102.42 L385.63 102.94 L385.74 103.44 L385.84 103.94 L385.94 104.43 L386.04 104.91 L386.14 105.39 L386.25 105.85 L386.35 106.31 L386.45 106.77 L386.55 107.23 L386.65 107.68 L386.76 108.13 L386.86 108.57 L386.96 109.02 L387.06 109.45 L387.16 109.89 L387.27 110.32 L387.37 110.75 L387.47 111.17 L387.57 111.59 L387.68 112.01 L387.78 112.42 L387.88 112.83 L387.98 113.24 L388.08 113.64 L388.19 114.04 L388.29 114.44 L388.39 114.83 L388.49 115.21 L388.59 115.6 L388.7 115.98 L388.8 116.35 L388.9 116.73 L389 117.1 L389.1 117.46 L389.21 117.82 L389.31 118.18 L389.41 118.53 L389.51 118.88 L389.61 119.23 L389.72 119.57 L389.82 119.9 L389.92 120.24 L390.02 120.57 L390.12 120.89 L390.23 121.21 L390.33 121.53 L390.43 121.84 L390.53 122.15 L390.63 122.45 L390.74 122.75 L390.84 123.05 L390.94 123.34 L391.04 123.63 L391.14 123.91 L391.25 124.19 L391.35 124.47 L391.45 124.74 L391.55 125.01 L391.65 125.29 L391.76 125.56 L391.86 125.82 L391.96 126.09 L392.06 126.36 L392.17 126.62 L392.27 126.88 L392.37 127.14 L392.47 127.4 L392.57 127.65 L392.68 127.9 L392.78 128.16 L392.88 128.41 L392.98 128.65 L393.08 128.9 L393.19 129.14 L393.29 129.38 L393.39 129.62 L393.49 129.86 L393.59 130.1 L393.7 130.33 L393.8 130.56 L393.9 130.79 L394 131.01 L394.1 131.24 L394.21 131.46 L394.31 131.68 L394.41 131.89 L394.51 132.11 L394.61 132.32 L394.72 132.53 L394.82 132.74 L394.92 132.94 L395.02 133.14 L395.12 133.34 L395.23 133.54 L395.33 133.74 L395.43 133.93 L395.53 134.12 L395.63 134.3 L395.74 134.49 L395.84 134.67 L395.94 134.85 L396.04 135.02 L396.14 135.19 L396.25 135.36 L396.35 135.53 L396.45 135.69 L396.55 135.86 L396.66 136.01 L396.76 136.17 L396.86 136.32 L396.96 136.47 L397.06 136.62 L397.17 136.76 L397.27 136.9 L397.37 137.04 L397.47 137.18 L397.57 137.32 L397.68 137.46 L397.78 137.6 L397.88 137.73 L397.98 137.87 L398.08 138 L398.19 138.13 L398.29 138.27 L398.39 138.4 L398.49 138.53 L398.59 138.65 L398.7 138.78 L398.8 138.91 L398.9 139.03 L399 139.16 L399.1 139.28 L399.21 139.4 L399.31 139.53 L399.41 139.65 L399.51 139.77 L399.61 139.88 L399.72 140 L399.82 140.12 L399.92 140.23 L400.02 140.35 L400.12 140.46 L400.23 140.58 L400.33 140.69 L400.43 140.8 L400.53 140.91 L400.64 141.02 L400.74 141.12 L400.84 141.23 L400.94 141.34 L401.04 141.44 L401.15 141.55 L401.25 141.65 L401.35 141.75 L401.45 141.85 L401.55 141.95 L401.66 142.05 L401.76 142.15 L401.86 142.25 L401.96 142.35 L402.06 142.44 L402.17 142.54 L402.27 142.63 L402.37 142.73 L402.47 142.82 L402.57 142.91 L402.68 143 L402.78 143.09 L402.88 143.18 L402.98 143.27 L403.08 143.36 L403.19 143.44 L403.29 143.53 L403.39 143.61 L403.49 143.7 L403.59 143.78 L403.7 143.86 L403.8 143.94 L403.9 144.02 L404 144.1 L404.1 144.18 L404.21 144.26 L404.31 144.34 L404.41 144.42 L404.51 144.49 L404.61 144.57 L404.72 144.64 L404.82 144.71 L404.92 144.79 L405.02 144.86 L405.13 144.93 L405.23 145 L405.33 145.07 L405.43 145.14 L405.53 145.21 L405.64 145.27 L405.74 145.34 L405.84 145.41 L405.94 145.47 L406.04 145.54 L406.15 145.61 L406.25 145.67 L406.35 145.74 L406.45 145.8 L406.55 145.87 L406.66 145.93 L406.76 145.99 L406.86 146.06 L407.07 146.19 L407.47 146.43 L407.86 146.66 L408.25 146.88 L408.65 147.1 L409.04 147.32 L409.44 147.52 L409.83 147.72 L410.22 147.92 L410.62 148.1 L411.01 148.28 L411.4 148.45 L411.8 148.62 L412.19 148.77 L412.58 148.92 L412.98 149.06 L413.37 149.19 L413.76 149.31 L414.16 149.42 L414.55 149.53 L414.94 149.64 L415.34 149.74 L415.73 149.84 L416.12 149.94 L416.52 150.03 L416.91 150.12 L417.3 150.21 L417.7 150.3 L418.09 150.38 L418.49 150.46 L418.88 150.53 L419.27 150.6 L419.67 150.67 L420.06 150.74 L420.45 150.8 L420.85 150.86 L421.24 150.92 L421.63 150.97 L422.03 151.02 L422.42 151.07 L422.81 151.12 L423.21 151.17 L423.6 151.21 L423.99 151.26 L424.39 151.3 L424.78 151.34 L425.17 151.39 L425.57 151.43 L425.96 151.47 L426.35 151.51 L426.75 151.55 L427.14 151.59 L427.54 151.62 L427.93 151.66 L428.32 151.69 L428.72 151.73 L429.11 151.76 L429.5 151.79 L429.9 151.82 L430.29 151.85 L430.68 151.88 L431.08 151.91 L431.47 151.93 L431.86 151.96 L432.26 151.98 L432.65 152 L433.04 152.02 L433.44 152.04 L433.83 152.05 L434.22 152.07 L434.62 152.08 L435.01 152.1 L435.4 152.11 L435.8 152.12 L436.19 152.13 L436.59 152.14 L436.98 152.16 L437.37 152.17 L437.77 152.18 L438.16 152.19 L438.55 152.2 L438.95 152.21 L439.34 152.22 L439.73 152.23 L440.13 152.24 L440.52 152.25 L440.91 152.26 L441.31 152.27 L441.7 152.28 L442.09 152.29 L442.49 152.29 L442.88 152.3 L443.27 152.31 L443.67 152.32 L444.06 152.32 L444.45 152.33 L444.85 152.33 L445.24 152.34 L445.64 152.35 L446.03 152.35 L446.42 152.35 L446.82 152.36 L447.21 152.36 L447.6 152.37 L448 152.37 L448.39 152.37 L448.78 152.37 L449.18 152.38 L449.57 152.38 L449.96 152.38 L450.36 152.38 L450.75 152.38 L451.14 152.38 L451.54 152.38 L451.93 152.38 L452.32 152.38 L452.72 152.38 L453.11 152.38 L453.51 152.39 L453.9 152.39 L454.29 152.39 L454.69 152.39 L455.08 152.39 L455.47 152.39 L455.87 152.39 L456.26 152.39 L456.65 152.39 L457.05 152.39 L457.44 152.39 L457.83 152.39 L458.23 152.4 L458.62 152.4 L459.01 152.4 L459.41 152.4 L459.8 152.4 L460.19 152.4 L460.59 152.4 L460.98 152.4 L461.37 152.4 L461.77 152.4 L462.16 152.4 L462.56 152.4 L462.95 152.4 L463.34 152.4 L463.74 152.41 L464.13 152.41 L464.52 152.41 L464.92 152.41 L465.31 152.41 L465.7 152.41 L466.1 152.41 L466.49 152.41 L466.88 152.41 L467.28 152.41 L467.67 152.41 L468.06 152.41 L468.46 152.41 L468.85 152.41 L469.24 152.41 L469.64 152.41 L470.03 152.42 L470.42 152.42 L470.82 152.42 L471.21 152.42 L471.61 152.42 L472 152.42 L472.39 152.42 L472.79 152.42 L473.18 152.42 L473.57 152.42 L473.97 152.42 L474.36 152.42 L474.75 152.42 L475.15 152.42 L475.54 152.42 L475.93 152.42 L476.33 152.42 L476.72 152.42 L477.11 152.42 L477.51 152.43 L477.9 152.43 L478.29 152.43 L478.69 152.43 L479.08 152.43 L479.47 152.43 L479.87 152.43 L480.26 152.43 L480.66 152.43 L481.05 152.43 L481.44 152.43 L481.84 152.43 L482.23 152.43 L482.62 152.43 L483.02 152.43 L483.41 152.43 L483.8 152.43 L484.2 152.43 L484.59 152.43 L484.98 152.43 L485.38 152.43 L485.77 152.43 L486.16 152.43 L486.56 152.43 L486.95 152.44 L487.34 152.44 L487.74 152.44 L488.13 152.44 L488.52 152.44 L488.92 152.44 L489.31 152.44 L489.71 152.44 L490.1 152.44 L490.49 152.44 L490.89 152.44 L491.28 152.44 L491.67 152.44 L492.07 152.44 L492.46 152.44 L492.85 152.44 L493.25 152.44 L493.64 152.44 L494.03 152.44 L494.43 152.44 L494.82 152.44 L495.21 152.44 L495.61 152.44 L496 152.44 L496.39 152.44 L496.79 152.44 L497.18 152.44 L497.57 152.44 L497.97 152.44 L498.36 152.44 L498.76 152.44 L499.15 152.44 L499.54 152.44 L499.94 152.44 L500.33 152.44 L500.72 152.44 L501.12 152.44 L501.51 152.44 L501.9 152.45 L502.3 152.45 L502.69 152.45 L503.08 152.45 L503.48 152.45 L503.87 152.45 L504.26 152.45 L504.66 152.45 L505.05 152.45 L505.44 152.45 L505.84 152.45 L506.23 152.45 L506.62 152.45 L507.02 152.45 L507.41 152.45 L507.81 152.45 L508.2 152.45 L508.59 152.45 L508.99 152.45 L509.38 152.45 L509.77 152.45 L510.17 152.45 L510.56 152.45 L510.95 152.45 L511.35 152.45 L511.74 152.45 L512.13 152.45 L512.53 152.45 L512.92 152.45 L513.31 152.45 L513.71 152.45 L514.1 152.45 L514.49 152.45 L514.89 152.45 L515.28 152.45 L515.67 152.45 L516.07 152.45 L516.46 152.45 L516.86 152.45 L517.25 152.45 L517.64 152.45 L518.04 152.45 L518.43 152.45 L518.82 152.45 L519.22 152.45 L519.61 152.45 L520 152.45 L520.4 152.45 L520.79 152.45 L521.18 152.45 L521.58 152.45 L521.97 152.45 L522.36 152.45 L522.76 152.45 L523.15 152.45 L523.54 152.45 L523.94 152.45 L524.33 152.45 L524.73 152.45" fill="none" stroke="#f23030" stroke-width="1.8" stroke-linejoin="round"/>
<g fill="#fff" fill-opacity="0.0" stroke="#2b72e6" stroke-width="1.25">
<circle cx="364" cy="152.45" r="2.4"/>
<circle cx="366.14" cy="152.45" r="2.4"/>
<circle cx="368.29" cy="152.38" r="2.4"/>
<circle cx="370" cy="145.96" r="2.4"/>
<circle cx="372.36" cy="117.82" r="2.4"/>
<circle cx="374.88" cy="64.17" r="2.4"/>
<circle cx="376.75" cy="30.77" r="2.4"/>
<circle cx="378.89" cy="59.09" r="2.4"/>
<circle cx="381.14" cy="99.16" r="2.4"/>
<circle cx="383.29" cy="117.14" r="2.4"/>
<circle cx="385.43" cy="126.22" r="2.4"/>
<circle cx="387.57" cy="131.04" r="2.4"/>
<circle cx="389.72" cy="134.51" r="2.4"/>
<circle cx="391.86" cy="137.18" r="2.4"/>
<circle cx="394" cy="138.65" r="2.4"/>
<circle cx="396.14" cy="139.73" r="2.4"/>
<circle cx="398.29" cy="140.63" r="2.4"/>
<circle cx="400.43" cy="141.48" r="2.4"/>
<circle cx="402.57" cy="142.28" r="2.4"/>
<circle cx="404.72" cy="142.98" r="2.4"/>
<circle cx="406.86" cy="143.59" r="2.4"/>
<circle cx="409" cy="144.13" r="2.4"/>
<circle cx="411.15" cy="144.6" r="2.4"/>
<circle cx="413.29" cy="145.06" r="2.4"/>
<circle cx="415.43" cy="145.5" r="2.4"/>
<circle cx="417.57" cy="145.91" r="2.4"/>
<circle cx="419.72" cy="146.3" r="2.4"/>
<circle cx="421.86" cy="146.65" r="2.4"/>
<circle cx="424" cy="146.97" r="2.4"/>
<circle cx="426.15" cy="147.26" r="2.4"/>
<circle cx="428.29" cy="147.52" r="2.4"/>
<circle cx="430.43" cy="147.75" r="2.4"/>
<circle cx="432.58" cy="147.97" r="2.4"/>
<circle cx="434.72" cy="148.17" r="2.4"/>
<circle cx="436.86" cy="148.36" r="2.4"/>
<circle cx="439" cy="148.55" r="2.4"/>
<circle cx="441.15" cy="148.73" r="2.4"/>
<circle cx="443.29" cy="148.9" r="2.4"/>
<circle cx="445.43" cy="149.05" r="2.4"/>
<circle cx="447.58" cy="149.21" r="2.4"/>
<circle cx="449.72" cy="149.35" r="2.4"/>
<circle cx="451.86" cy="149.48" r="2.4"/>
<circle cx="454.01" cy="149.61" r="2.4"/>
<circle cx="456.15" cy="149.72" r="2.4"/>
<circle cx="458.29" cy="149.84" r="2.4"/>
<circle cx="460.44" cy="149.94" r="2.4"/>
<circle cx="462.58" cy="150.04" r="2.4"/>
<circle cx="464.72" cy="150.14" r="2.4"/>
<circle cx="466.86" cy="150.23" r="2.4"/>
<circle cx="469.01" cy="150.32" r="2.4"/>
<circle cx="471.15" cy="150.41" r="2.4"/>
<circle cx="473.29" cy="150.49" r="2.4"/>
<circle cx="475.44" cy="150.57" r="2.4"/>
<circle cx="477.58" cy="150.65" r="2.4"/>
<circle cx="479.72" cy="150.72" r="2.4"/>
<circle cx="481.87" cy="150.79" r="2.4"/>
<circle cx="484.01" cy="150.86" r="2.4"/>
<circle cx="486.15" cy="150.92" r="2.4"/>
<circle cx="488.29" cy="150.99" r="2.4"/>
<circle cx="490.44" cy="151.05" r="2.4"/>
<circle cx="492.58" cy="151.1" r="2.4"/>
<circle cx="494.72" cy="151.16" r="2.4"/>
<circle cx="496.87" cy="151.21" r="2.4"/>
<circle cx="499.01" cy="151.26" r="2.4"/>
<circle cx="501.15" cy="151.31" r="2.4"/>
<circle cx="503.29" cy="151.36" r="2.4"/>
<circle cx="505.44" cy="151.41" r="2.4"/>
<circle cx="507.58" cy="151.45" r="2.4"/>
<circle cx="509.72" cy="151.49" r="2.4"/>
<circle cx="511.87" cy="151.54" r="2.4"/>
<circle cx="514.01" cy="151.58" r="2.4"/>
<circle cx="516.15" cy="151.61" r="2.4"/>
<circle cx="518.3" cy="151.65" r="2.4"/>
<circle cx="520.44" cy="151.69" r="2.4"/>
<circle cx="522.58" cy="151.72" r="2.4"/>
<circle cx="524.73" cy="151.75" r="2.4"/>
</g>
<rect x="342.6" y="7.2" width="203.6" height="159.8" fill="none" stroke="#444" stroke-width="1"/>
<path d="M342.6 152.45 h3.2 M342.6 123.41 h3.2 M342.6 94.37 h3.2 M342.6 65.33 h3.2 M342.6 36.29 h3.2 M342.6 7.25 h3.2 M342.6 137.93 h1.7 M342.6 108.89 h1.7 M342.6 79.85 h1.7 M342.6 50.81 h1.7 M342.6 21.77 h1.7 M364 167 v-3.2 M406.86 167 v-3.2 M449.72 167 v-3.2 M492.58 167 v-3.2 M535.44 167 v-3.2 M385.43 167 v-1.7 M428.29 167 v-1.7 M471.15 167 v-1.7 M514.01 167 v-1.7" stroke="#444" stroke-width="1" fill="none"/>
<g font-family="'Liberation Sans', Arial, sans-serif" font-size="8.5" fill="#111" stroke="#111" stroke-width="0.22">
<text transform="translate(339 155.2) scale(0.9 1)" text-anchor="end">0</text>
<text transform="translate(339 126.16) scale(0.9 1)" text-anchor="end">2,000</text>
<text transform="translate(339 97.12) scale(0.9 1)" text-anchor="end">4,000</text>
<text transform="translate(339 68.08) scale(0.9 1)" text-anchor="end">6,000</text>
<text transform="translate(339 39.04) scale(0.9 1)" text-anchor="end">8,000</text>
<text transform="translate(339 10) scale(0.9 1)" text-anchor="end">10,000</text>
<text transform="translate(364 177.1) scale(0.9 1)" text-anchor="middle">0</text>
<text transform="translate(406.86 177.1) scale(0.9 1)" text-anchor="middle">40</text>
<text transform="translate(449.72 177.1) scale(0.9 1)" text-anchor="middle">80</text>
<text transform="translate(492.58 177.1) scale(0.9 1)" text-anchor="middle">120</text>
<text transform="translate(535.44 177.1) scale(0.9 1)" text-anchor="middle">160</text>
<text transform="translate(310.6 87.1) rotate(-90) scale(0.9 1)" text-anchor="middle">Current (µA)</text>
</g>
<g font-family="'Liberation Serif', 'Times New Roman', serif" font-size="7.7" fill="#111" stroke="#111" stroke-width="0.3">
<text x="444.8" y="190.2" text-anchor="middle">Time (ps)</text>
<g font-size="7.85">
<text x="470" y="21.9">DE model</text>
<text x="470" y="31.5">PDE model</text>
<text x="470" y="42">Simulated (TCAD)</text>
</g>
</g>
<path d="M450 19 h18.2" stroke="#303030" stroke-width="1.6"/>
<path d="M450 28.6 h18.2" stroke="#f23030" stroke-width="1.6"/>
<circle cx="459.3" cy="39" r="2.4" fill="none" stroke="#2b72e6" stroke-width="1.25"/>
<text x="438.5" y="225.5" text-anchor="middle" font-family="'Liberation Serif', serif" font-size="11.5" fill="#111">(<tspan font-weight="bold">b</tspan>)</text>
</g>
<g>
<path d="M56.71 396.6 L56.82 395.25 L56.92 393.07 L57.03 390.36 L57.13 386.55 L57.24 381.4 L57.34 375.76 L57.44 370.49 L57.55 365.72 L57.65 360.96 L57.76 356.31 L57.86 351.86 L57.96 347.72 L58.07 343.89 L58.17 340.3 L58.28 336.88 L58.38 333.56 L58.49 330.27 L58.59 326.93 L58.69 323.46 L58.8 319.81 L58.9 316.11 L59.01 312.44 L59.11 308.93 L59.22 305.67 L59.32 302.78 L59.42 300.35 L59.53 298.29 L59.63 296.36 L59.74 294.58 L59.84 292.96 L59.95 291.53 L60.05 290.32 L60.15 289.35 L60.26 288.57 L60.36 287.84 L60.47 287.2 L60.57 286.65 L60.67 286.24 L60.78 285.96 L60.88 285.81 L60.99 285.67 L61.09 285.54 L61.2 285.42 L61.3 285.32 L61.4 285.24 L61.51 285.17 L61.61 285.12 L61.72 285.09 L61.82 285.07 L61.93 285.09 L62.03 285.14 L62.13 285.24 L62.24 285.37 L62.34 285.52 L62.45 285.71 L62.55 285.91 L62.66 286.12 L62.76 286.35 L62.86 286.58 L62.97 286.82 L63.07 287.12 L63.18 287.48 L63.28 287.88 L63.38 288.32 L63.49 288.79 L63.59 289.27 L63.7 289.77 L63.8 290.27 L63.91 290.76 L64.01 291.25 L64.11 291.75 L64.22 292.27 L64.32 292.81 L64.43 293.36 L64.53 293.93 L64.64 294.5 L64.74 295.09 L64.84 295.67 L64.95 296.26 L65.05 296.86 L65.16 297.45 L65.26 298.04 L65.36 298.62 L65.47 299.2 L65.57 299.77 L65.68 300.33 L65.78 300.89 L65.89 301.44 L65.99 301.99 L66.09 302.55 L66.2 303.1 L66.3 303.65 L66.41 304.2 L66.51 304.75 L66.62 305.3 L66.72 305.85 L66.82 306.4 L66.93 306.95 L67.03 307.5 L67.14 308.06 L67.24 308.61 L67.35 309.16 L67.45 309.72 L67.55 310.27 L67.66 310.83 L67.76 311.38 L67.87 311.94 L67.97 312.5 L68.07 313.06 L68.18 313.61 L68.28 314.17 L68.39 314.73 L68.49 315.28 L68.6 315.84 L68.7 316.4 L68.8 316.95 L68.91 317.51 L69.01 318.06 L69.12 318.62 L69.22 319.17 L69.33 319.72 L69.43 320.28 L69.53 320.83 L69.64 321.38 L69.74 321.93 L69.85 322.47 L69.95 323.02 L70.06 323.56 L70.16 324.11 L70.26 324.65 L70.37 325.19 L70.47 325.73 L70.58 326.27 L70.68 326.81 L70.78 327.36 L70.89 327.91 L70.99 328.46 L71.1 329.01 L71.2 329.56 L71.31 330.11 L71.41 330.66 L71.51 331.21 L71.62 331.76 L71.72 332.32 L71.83 332.87 L71.93 333.42 L72.04 333.97 L72.14 334.52 L72.24 335.07 L72.35 335.62 L72.45 336.17 L72.56 336.71 L72.66 337.26 L72.76 337.8 L72.87 338.34 L72.97 338.88 L73.08 339.42 L73.18 339.95 L73.29 340.49 L73.39 341.02 L73.49 341.54 L73.6 342.07 L73.7 342.59 L73.81 343.1 L73.91 343.62 L74.02 344.13 L74.12 344.63 L74.22 345.14 L74.33 345.63 L74.43 346.13 L74.54 346.62 L74.64 347.1 L74.75 347.58 L74.85 348.06 L74.95 348.53 L75.06 348.99 L75.16 349.45 L75.27 349.9 L75.37 350.35 L75.47 350.79 L75.58 351.24 L75.68 351.68 L75.79 352.13 L75.89 352.57 L76 353.01 L76.1 353.45 L76.2 353.89 L76.31 354.33 L76.41 354.76 L76.52 355.2 L76.62 355.64 L76.73 356.07 L76.83 356.5 L76.93 356.93 L77.04 357.36 L77.14 357.78 L77.25 358.21 L77.35 358.63 L77.46 359.05 L77.56 359.47 L77.66 359.88 L77.77 360.29 L77.87 360.7 L77.98 361.11 L78.08 361.52 L78.18 361.92 L78.29 362.32 L78.39 362.71 L78.5 363.11 L78.6 363.5 L78.71 363.88 L78.81 364.27 L78.91 364.65 L79.02 365.02 L79.12 365.4 L79.23 365.77 L79.33 366.13 L79.44 366.49 L79.54 366.85 L79.64 367.2 L79.75 367.55 L79.85 367.9 L79.96 368.24 L80.06 368.57 L80.16 368.9 L80.27 369.23 L80.37 369.55 L80.48 369.87 L80.58 370.18 L80.69 370.49 L80.79 370.79 L80.89 371.09 L81 371.38 L81.1 371.66 L81.21 371.94 L81.31 372.22 L81.42 372.49 L81.52 372.76 L81.62 373.02 L81.73 373.29 L81.83 373.55 L81.94 373.81 L82.04 374.07 L82.15 374.33 L82.25 374.59 L82.35 374.84 L82.46 375.1 L82.56 375.35 L82.67 375.59 L82.77 375.84 L82.87 376.09 L82.98 376.33 L83.08 376.57 L83.19 376.81 L83.29 377.04 L83.4 377.28 L83.5 377.51 L83.6 377.74 L83.71 377.97 L83.81 378.19 L83.92 378.42 L84.02 378.64 L84.13 378.85 L84.23 379.07 L84.33 379.28 L84.44 379.49 L84.54 379.7 L84.65 379.91 L84.75 380.11 L84.85 380.31 L84.96 380.51 L85.06 380.7 L85.17 380.9 L85.27 381.09 L85.38 381.27 L85.48 381.46 L85.58 381.64 L85.69 381.82 L85.79 381.99 L85.9 382.17 L86 382.34 L86.11 382.5 L86.21 382.67 L86.31 382.83 L86.42 382.98 L86.52 383.14 L86.63 383.29 L86.73 383.44 L86.84 383.58 L86.94 383.73 L87.04 383.86 L87.15 384 L87.25 384.13 L87.36 384.26 L87.46 384.39 L87.56 384.52 L87.67 384.65 L87.77 384.78 L87.88 384.91 L87.98 385.03 L88.09 385.16 L88.19 385.28 L88.29 385.41 L88.4 385.53 L88.5 385.65 L88.61 385.77 L88.71 385.89 L88.82 386.01 L88.92 386.12 L89.02 386.24 L89.13 386.36 L89.23 386.47 L89.34 386.59 L89.44 386.7 L89.55 386.81 L89.65 386.92 L89.75 387.03 L89.86 387.14 L89.96 387.25 L90.07 387.36 L90.17 387.46 L90.27 387.57 L90.38 387.67 L90.48 387.78 L90.59 387.88 L90.69 387.98 L90.8 388.08 L90.9 388.18 L91 388.28 L91.11 388.38 L91.21 388.47 L91.32 388.57 L91.42 388.66 L91.53 388.76 L91.63 388.85 L91.73 388.94 L91.84 389.03 L91.94 389.12 L92.05 389.21 L92.15 389.3 L92.25 389.38 L92.36 389.47 L92.46 389.55 L92.57 389.64 L92.67 389.72 L92.78 389.8 L92.88 389.88 L92.98 389.96 L93.09 390.04 L93.19 390.12 L93.3 390.2 L93.4 390.27 L93.51 390.35 L93.61 390.42 L93.71 390.49 L93.82 390.56 L93.92 390.63 L94.03 390.7 L94.13 390.77 L94.24 390.84 L94.34 390.9 L94.44 390.97 L94.55 391.03 L94.65 391.1 L94.76 391.16 L94.86 391.22 L94.96 391.28 L95.07 391.34 L95.17 391.39 L95.28 391.45 L95.38 391.51 L95.49 391.56 L95.59 391.61 L95.69 391.67 L95.8 391.72 L95.9 391.77 L96.01 391.82 L96.11 391.87 L96.22 391.92 L96.32 391.97 L96.42 392.02 L96.53 392.07 L96.63 392.11 L96.74 392.16 L96.84 392.21 L96.95 392.25 L97.05 392.3 L97.15 392.35 L97.26 392.39 L97.36 392.44 L97.47 392.48 L97.57 392.53 L97.67 392.57 L97.78 392.61 L97.88 392.66 L97.99 392.7 L98.09 392.74 L98.2 392.78 L98.3 392.82 L98.51 392.91 L98.89 393.05 L99.28 393.19 L99.66 393.33 L100.05 393.46 L100.43 393.59 L100.82 393.71 L101.2 393.82 L101.59 393.93 L101.97 394.04 L102.36 394.14 L102.74 394.24 L103.13 394.33 L103.51 394.42 L103.89 394.51 L104.28 394.59 L104.66 394.67 L105.05 394.75 L105.43 394.82 L105.82 394.89 L106.2 394.96 L106.59 395.03 L106.97 395.1 L107.36 395.16 L107.74 395.23 L108.13 395.28 L108.51 395.34 L108.9 395.4 L109.28 395.45 L109.66 395.5 L110.05 395.55 L110.43 395.59 L110.82 395.64 L111.2 395.68 L111.59 395.71 L111.97 395.75 L112.36 395.78 L112.74 395.81 L113.13 395.85 L113.51 395.88 L113.9 395.91 L114.28 395.94 L114.67 395.97 L115.05 396 L115.43 396.02 L115.82 396.05 L116.2 396.08 L116.59 396.1 L116.97 396.13 L117.36 396.15 L117.74 396.17 L118.13 396.19 L118.51 396.21 L118.9 396.23 L119.28 396.25 L119.67 396.26 L120.05 396.28 L120.44 396.29 L120.82 396.3 L121.2 396.31 L121.59 396.32 L121.97 396.33 L122.36 396.34 L122.74 396.35 L123.13 396.36 L123.51 396.36 L123.9 396.37 L124.28 396.38 L124.67 396.39 L125.05 396.4 L125.44 396.4 L125.82 396.41 L126.21 396.42 L126.59 396.43 L126.97 396.43 L127.36 396.44 L127.74 396.45 L128.13 396.46 L128.51 396.46 L128.9 396.47 L129.28 396.47 L129.67 396.48 L130.05 396.49 L130.44 396.49 L130.82 396.5 L131.21 396.5 L131.59 396.51 L131.98 396.51 L132.36 396.52 L132.74 396.52 L133.13 396.53 L133.51 396.53 L133.9 396.54 L134.28 396.54 L134.67 396.54 L135.05 396.55 L135.44 396.55 L135.82 396.55 L136.21 396.56 L136.59 396.56 L136.98 396.56 L137.36 396.56 L137.75 396.56 L138.13 396.57 L138.51 396.57 L138.9 396.57 L139.28 396.57 L139.67 396.57 L140.05 396.57 L140.44 396.57 L140.82 396.57 L141.21 396.57 L141.59 396.57 L141.98 396.57 L142.36 396.57 L142.75 396.57 L143.13 396.57 L143.52 396.57 L143.9 396.57 L144.28 396.58 L144.67 396.58 L145.05 396.58 L145.44 396.58 L145.82 396.58 L146.21 396.58 L146.59 396.58 L146.98 396.58 L147.36 396.58 L147.75 396.58 L148.13 396.58 L148.52 396.58 L148.9 396.58 L149.29 396.58 L149.67 396.58 L150.05 396.58 L150.44 396.58 L150.82 396.58 L151.21 396.58 L151.59 396.58 L151.98 396.58 L152.36 396.58 L152.75 396.58 L153.13 396.58 L153.52 396.58 L153.9 396.58 L154.29 396.58 L154.67 396.58 L155.06 396.58 L155.44 396.58 L155.82 396.58 L156.21 396.58 L156.59 396.58 L156.98 396.58 L157.36 396.58 L157.75 396.59 L158.13 396.59 L158.52 396.59 L158.9 396.59 L159.29 396.59 L159.67 396.59 L160.06 396.59 L160.44 396.59 L160.83 396.59 L161.21 396.59 L161.59 396.59 L161.98 396.59 L162.36 396.59 L162.75 396.59 L163.13 396.59 L163.52 396.59 L163.9 396.59 L164.29 396.59 L164.67 396.59 L165.06 396.59 L165.44 396.59 L165.83 396.59 L166.21 396.59 L166.6 396.59 L166.98 396.59 L167.36 396.59 L167.75 396.59 L168.13 396.59 L168.52 396.59 L168.9 396.59 L169.29 396.59 L169.67 396.59 L170.06 396.59 L170.44 396.59 L170.83 396.59 L171.21 396.59 L171.6 396.59 L171.98 396.59 L172.37 396.59 L172.75 396.59 L173.13 396.59 L173.52 396.59 L173.9 396.59 L174.29 396.59 L174.67 396.59 L175.06 396.59 L175.44 396.59 L175.83 396.59 L176.21 396.59 L176.6 396.59 L176.98 396.59 L177.37 396.59 L177.75 396.59 L178.14 396.59 L178.52 396.59 L178.9 396.59 L179.29 396.6 L179.67 396.6 L180.06 396.6 L180.44 396.6 L180.83 396.6 L181.21 396.6 L181.6 396.6 L181.98 396.6 L182.37 396.6 L182.75 396.6 L183.14 396.6 L183.52 396.6 L183.91 396.6 L184.29 396.6 L184.67 396.6 L185.06 396.6 L185.44 396.6 L185.83 396.6 L186.21 396.6 L186.6 396.6 L186.98 396.6 L187.37 396.6 L187.75 396.6 L188.14 396.6 L188.52 396.6 L188.91 396.6 L189.29 396.6 L189.68 396.6 L190.06 396.6 L190.44 396.6 L190.83 396.6 L191.21 396.6 L191.6 396.6 L191.98 396.6 L192.37 396.6 L192.75 396.6 L193.14 396.6 L193.52 396.6 L193.91 396.6 L194.29 396.6 L194.68 396.6 L195.06 396.6 L195.45 396.6 L195.83 396.6 L196.21 396.6 L196.6 396.6 L196.98 396.6 L197.37 396.6 L197.75 396.6 L198.14 396.6 L198.52 396.6 L198.91 396.6 L199.29 396.6 L199.68 396.6 L200.06 396.6 L200.45 396.6 L200.83 396.6 L201.22 396.6 L201.6 396.6 L201.98 396.6 L202.37 396.6 L202.75 396.6 L203.14 396.6 L203.52 396.6 L203.91 396.6 L204.29 396.6 L204.68 396.6 L205.06 396.6 L205.45 396.6 L205.83 396.6 L206.22 396.6 L206.6 396.6 L206.99 396.6 L207.37 396.6 L207.75 396.6 L208.14 396.6 L208.52 396.6 L208.91 396.6 L209.29 396.6 L209.68 396.6 L210.06 396.6 L210.45 396.6 L210.83 396.6 L211.22 396.6 L211.6 396.6 L211.99 396.6 L212.37 396.6 L212.76 396.6 L213.14 396.6 L213.53 396.6" fill="none" stroke="#303030" stroke-width="1.75" stroke-linejoin="round"/>
<path d="M58.49 396.6 L58.59 395.95 L58.69 395.04 L58.79 393.89 L58.89 392.54 L58.99 391.01 L59.09 389.34 L59.19 387.55 L59.29 385.68 L59.39 383.39 L59.49 380.55 L59.59 377.25 L59.69 373.6 L59.79 369.69 L59.89 365.63 L59.99 361.5 L60.09 357.41 L60.19 353.46 L60.29 349.74 L60.39 346.35 L60.49 343.39 L60.59 340.75 L60.69 338.26 L60.79 335.89 L60.89 333.63 L60.99 331.44 L61.09 329.3 L61.19 327.18 L61.29 325.05 L61.39 322.89 L61.49 320.64 L61.59 318.31 L61.69 315.96 L61.79 313.66 L61.89 311.45 L61.99 309.4 L62.09 307.57 L62.19 306.01 L62.29 304.71 L62.39 303.51 L62.49 302.38 L62.59 301.32 L62.69 300.33 L62.78 299.39 L62.88 298.5 L62.98 297.66 L63.08 296.84 L63.18 296.06 L63.28 295.29 L63.38 294.54 L63.48 293.79 L63.58 293.04 L63.68 292.29 L63.78 291.51 L63.88 290.72 L63.98 289.89 L64.08 289.03 L64.18 288.15 L64.28 287.26 L64.38 286.36 L64.48 285.45 L64.58 284.55 L64.68 283.67 L64.78 282.79 L64.88 281.95 L64.98 281.13 L65.08 280.34 L65.18 279.6 L65.28 278.9 L65.38 278.25 L65.48 277.67 L65.58 277.11 L65.68 276.58 L65.78 276.07 L65.88 275.57 L65.98 275.09 L66.08 274.63 L66.18 274.18 L66.28 273.74 L66.38 273.32 L66.48 272.91 L66.58 272.52 L66.68 272.13 L66.78 271.75 L66.88 271.39 L66.97 271.03 L67.07 270.68 L67.17 270.33 L67.27 270 L67.37 269.66 L67.47 269.31 L67.57 268.94 L67.67 268.57 L67.77 268.19 L67.87 267.82 L67.97 267.47 L68.07 267.14 L68.17 266.84 L68.27 266.58 L68.37 266.36 L68.47 266.2 L68.57 266.11 L68.67 266.08 L68.77 266.17 L68.87 266.37 L68.97 266.69 L69.07 267.1 L69.17 267.61 L69.27 268.2 L69.37 268.86 L69.47 269.58 L69.57 270.36 L69.67 271.17 L69.77 272.02 L69.87 272.89 L69.97 273.77 L70.07 274.65 L70.17 275.52 L70.27 276.38 L70.37 277.21 L70.47 278 L70.57 278.82 L70.67 279.69 L70.77 280.59 L70.87 281.53 L70.97 282.5 L71.06 283.5 L71.16 284.53 L71.26 285.57 L71.36 286.63 L71.46 287.69 L71.56 288.77 L71.66 289.84 L71.76 290.91 L71.86 291.97 L71.96 293.03 L72.06 294.06 L72.16 295.08 L72.26 296.07 L72.36 297.03 L72.46 297.96 L72.56 298.85 L72.66 299.71 L72.76 300.54 L72.86 301.37 L72.96 302.19 L73.06 303 L73.16 303.8 L73.26 304.6 L73.36 305.4 L73.46 306.18 L73.56 306.96 L73.66 307.73 L73.76 308.49 L73.86 309.25 L73.96 310 L74.06 310.74 L74.16 311.48 L74.26 312.21 L74.36 312.93 L74.46 313.65 L74.56 314.36 L74.66 315.06 L74.76 315.75 L74.86 316.44 L74.96 317.12 L75.06 317.79 L75.16 318.46 L75.25 319.12 L75.35 319.77 L75.45 320.42 L75.55 321.05 L75.65 321.68 L75.75 322.31 L75.85 322.93 L75.95 323.54 L76.05 324.14 L76.15 324.73 L76.25 325.32 L76.35 325.91 L76.45 326.48 L76.55 327.06 L76.65 327.62 L76.75 328.19 L76.85 328.74 L76.95 329.3 L77.05 329.84 L77.15 330.39 L77.25 330.93 L77.35 331.46 L77.45 331.99 L77.55 332.51 L77.65 333.03 L77.75 333.55 L77.85 334.06 L77.95 334.57 L78.05 335.08 L78.15 335.58 L78.25 336.08 L78.35 336.57 L78.45 337.07 L78.55 337.55 L78.65 338.04 L78.75 338.52 L78.85 339 L78.95 339.48 L79.05 339.95 L79.15 340.42 L79.25 340.89 L79.35 341.36 L79.44 341.82 L79.54 342.28 L79.64 342.74 L79.74 343.2 L79.84 343.66 L79.94 344.11 L80.04 344.56 L80.14 345.02 L80.24 345.47 L80.34 345.91 L80.44 346.36 L80.54 346.81 L80.64 347.25 L80.74 347.7 L80.84 348.14 L80.94 348.58 L81.04 349.02 L81.14 349.47 L81.24 349.91 L81.34 350.35 L81.44 350.79 L81.54 351.23 L81.64 351.68 L81.74 352.12 L81.84 352.56 L81.94 353.01 L82.04 353.45 L82.14 353.9 L82.24 354.34 L82.34 354.78 L82.44 355.22 L82.54 355.66 L82.64 356.1 L82.74 356.54 L82.84 356.97 L82.94 357.41 L83.04 357.84 L83.14 358.26 L83.24 358.69 L83.34 359.11 L83.44 359.53 L83.54 359.95 L83.64 360.36 L83.73 360.77 L83.83 361.17 L83.93 361.57 L84.03 361.97 L84.13 362.36 L84.23 362.75 L84.33 363.13 L84.43 363.5 L84.53 363.87 L84.63 364.24 L84.73 364.59 L84.83 364.94 L84.93 365.29 L85.03 365.63 L85.13 365.96 L85.23 366.28 L85.33 366.6 L85.43 366.91 L85.53 367.21 L85.63 367.51 L85.73 367.8 L85.83 368.1 L85.93 368.39 L86.03 368.67 L86.13 368.96 L86.23 369.24 L86.33 369.52 L86.43 369.8 L86.53 370.07 L86.63 370.35 L86.73 370.62 L86.83 370.88 L86.93 371.15 L87.03 371.41 L87.13 371.67 L87.23 371.93 L87.33 372.18 L87.43 372.43 L87.53 372.68 L87.63 372.93 L87.73 373.17 L87.83 373.42 L87.92 373.66 L88.02 373.89 L88.12 374.13 L88.22 374.36 L88.32 374.59 L88.42 374.81 L88.52 375.04 L88.62 375.26 L88.72 375.48 L88.82 375.69 L88.92 375.91 L89.02 376.12 L89.12 376.32 L89.22 376.53 L89.32 376.73 L89.42 376.93 L89.52 377.13 L89.62 377.32 L89.72 377.52 L89.82 377.71 L89.92 377.89 L90.02 378.08 L90.12 378.26 L90.22 378.44 L90.32 378.61 L90.42 378.79 L90.52 378.96 L90.62 379.12 L90.72 379.29 L90.82 379.46 L90.92 379.62 L91.02 379.78 L91.12 379.94 L91.22 380.1 L91.32 380.26 L91.42 380.42 L91.52 380.57 L91.62 380.72 L91.72 380.88 L91.82 381.03 L91.92 381.18 L92.02 381.32 L92.11 381.47 L92.21 381.61 L92.31 381.76 L92.41 381.9 L92.51 382.04 L92.61 382.18 L92.71 382.32 L92.81 382.45 L92.91 382.59 L93.01 382.72 L93.11 382.85 L93.21 382.98 L93.31 383.11 L93.41 383.24 L93.51 383.37 L93.61 383.49 L93.71 383.61 L93.81 383.73 L93.91 383.85 L94.01 383.97 L94.11 384.09 L94.21 384.21 L94.31 384.32 L94.41 384.43 L94.51 384.55 L94.61 384.66 L94.71 384.76 L94.81 384.87 L94.91 384.98 L95.01 385.08 L95.11 385.18 L95.21 385.29 L95.31 385.39 L95.41 385.48 L95.51 385.58 L95.61 385.68 L95.71 385.77 L95.81 385.86 L95.91 385.96 L96.01 386.05 L96.11 386.14 L96.21 386.23 L96.3 386.32 L96.4 386.41 L96.5 386.5 L96.6 386.59 L96.7 386.68 L96.8 386.77 L96.9 386.86 L97 386.94 L97.1 387.03 L97.2 387.12 L97.3 387.2 L97.4 387.29 L97.5 387.37 L97.6 387.45 L97.7 387.54 L97.8 387.62 L97.9 387.7 L98 387.78 L98.1 387.86 L98.2 387.94 L98.3 388.02 L98.51 388.19 L98.89 388.49 L99.28 388.78 L99.66 389.06 L100.05 389.33 L100.43 389.6 L100.82 389.85 L101.2 390.1 L101.59 390.34 L101.97 390.57 L102.36 390.79 L102.74 391 L103.13 391.2 L103.51 391.4 L103.89 391.58 L104.28 391.76 L104.66 391.93 L105.05 392.1 L105.43 392.27 L105.82 392.43 L106.2 392.59 L106.59 392.74 L106.97 392.89 L107.36 393.04 L107.74 393.18 L108.13 393.32 L108.51 393.45 L108.9 393.58 L109.28 393.7 L109.66 393.82 L110.05 393.93 L110.43 394.04 L110.82 394.14 L111.2 394.24 L111.59 394.34 L111.97 394.42 L112.36 394.51 L112.74 394.58 L113.13 394.66 L113.51 394.73 L113.9 394.81 L114.28 394.88 L114.67 394.95 L115.05 395.02 L115.43 395.09 L115.82 395.16 L116.2 395.23 L116.59 395.29 L116.97 395.36 L117.36 395.42 L117.74 395.48 L118.13 395.54 L118.51 395.6 L118.9 395.66 L119.28 395.71 L119.67 395.76 L120.05 395.81 L120.44 395.86 L120.82 395.9 L121.2 395.95 L121.59 395.99 L121.97 396.02 L122.36 396.06 L122.74 396.09 L123.13 396.12 L123.51 396.15 L123.9 396.17 L124.28 396.2 L124.67 396.21 L125.05 396.23 L125.44 396.24 L125.82 396.26 L126.21 396.27 L126.59 396.28 L126.97 396.3 L127.36 396.31 L127.74 396.32 L128.13 396.33 L128.51 396.35 L128.9 396.36 L129.28 396.37 L129.67 396.38 L130.05 396.39 L130.44 396.4 L130.82 396.41 L131.21 396.42 L131.59 396.43 L131.98 396.44 L132.36 396.45 L132.74 396.45 L133.13 396.46 L133.51 396.47 L133.9 396.48 L134.28 396.48 L134.67 396.49 L135.05 396.5 L135.44 396.5 L135.82 396.51 L136.21 396.51 L136.59 396.52 L136.98 396.52 L137.36 396.53 L137.75 396.53 L138.13 396.53 L138.51 396.54 L138.9 396.54 L139.28 396.54 L139.67 396.54 L140.05 396.54 L140.44 396.54 L140.82 396.54 L141.21 396.54 L141.59 396.55 L141.98 396.55 L142.36 396.55 L142.75 396.55 L143.13 396.55 L143.52 396.55 L143.9 396.55 L144.28 396.55 L144.67 396.55 L145.05 396.55 L145.44 396.55 L145.82 396.55 L146.21 396.55 L146.59 396.55 L146.98 396.55 L147.36 396.56 L147.75 396.56 L148.13 396.56 L148.52 396.56 L148.9 396.56 L149.29 396.56 L149.67 396.56 L150.05 396.56 L150.44 396.56 L150.82 396.56 L151.21 396.56 L151.59 396.56 L151.98 396.56 L152.36 396.56 L152.75 396.56 L153.13 396.56 L153.52 396.56 L153.9 396.57 L154.29 396.57 L154.67 396.57 L155.06 396.57 L155.44 396.57 L155.82 396.57 L156.21 396.57 L156.59 396.57 L156.98 396.57 L157.36 396.57 L157.75 396.57 L158.13 396.57 L158.52 396.57 L158.9 396.57 L159.29 396.57 L159.67 396.57 L160.06 396.57 L160.44 396.57 L160.83 396.57 L161.21 396.57 L161.59 396.57 L161.98 396.58 L162.36 396.58 L162.75 396.58 L163.13 396.58 L163.52 396.58 L163.9 396.58 L164.29 396.58 L164.67 396.58 L165.06 396.58 L165.44 396.58 L165.83 396.58 L166.21 396.58 L166.6 396.58 L166.98 396.58 L167.36 396.58 L167.75 396.58 L168.13 396.58 L168.52 396.58 L168.9 396.58 L169.29 396.58 L169.67 396.58 L170.06 396.58 L170.44 396.58 L170.83 396.58 L171.21 396.58 L171.6 396.58 L171.98 396.58 L172.37 396.59 L172.75 396.59 L173.13 396.59 L173.52 396.59 L173.9 396.59 L174.29 396.59 L174.67 396.59 L175.06 396.59 L175.44 396.59 L175.83 396.59 L176.21 396.59 L176.6 396.59 L176.98 396.59 L177.37 396.59 L177.75 396.59 L178.14 396.59 L178.52 396.59 L178.9 396.59 L179.29 396.59 L179.67 396.59 L180.06 396.59 L180.44 396.59 L180.83 396.59 L181.21 396.59 L181.6 396.59 L181.98 396.59 L182.37 396.59 L182.75 396.59 L183.14 396.59 L183.52 396.59 L183.91 396.59 L184.29 396.59 L184.67 396.59 L185.06 396.59 L185.44 396.59 L185.83 396.59 L186.21 396.59 L186.6 396.59 L186.98 396.59 L187.37 396.59 L187.75 396.59 L188.14 396.6 L188.52 396.6 L188.91 396.6 L189.29 396.6 L189.68 396.6 L190.06 396.6 L190.44 396.6 L190.83 396.6 L191.21 396.6 L191.6 396.6 L191.98 396.6 L192.37 396.6 L192.75 396.6 L193.14 396.6 L193.52 396.6 L193.91 396.6 L194.29 396.6 L194.68 396.6 L195.06 396.6 L195.45 396.6 L195.83 396.6 L196.21 396.6 L196.6 396.6 L196.98 396.6 L197.37 396.6 L197.75 396.6 L198.14 396.6 L198.52 396.6 L198.91 396.6 L199.29 396.6 L199.68 396.6 L200.06 396.6 L200.45 396.6 L200.83 396.6 L201.22 396.6 L201.6 396.6 L201.98 396.6 L202.37 396.6 L202.75 396.6 L203.14 396.6 L203.52 396.6 L203.91 396.6 L204.29 396.6 L204.68 396.6 L205.06 396.6 L205.45 396.6 L205.83 396.6 L206.22 396.6 L206.6 396.6 L206.99 396.6 L207.37 396.6 L207.75 396.6 L208.14 396.6 L208.52 396.6 L208.91 396.6 L209.29 396.6 L209.68 396.6 L210.06 396.6 L210.45 396.6 L210.83 396.6 L211.22 396.6 L211.6 396.6 L211.99 396.6 L212.37 396.6 L212.76 396.6 L213.14 396.6 L213.53 396.6" fill="none" stroke="#f23030" stroke-width="1.75" stroke-linejoin="round"/>
<g fill="#fff" fill-opacity="0.0" stroke="#2b72e6" stroke-width="1.15">
<circle cx="56.4" cy="396.6" r="2.42"/>
<circle cx="58.49" cy="396.6" r="2.42"/>
<circle cx="60.49" cy="396.31" r="2.42"/>
<circle cx="62.37" cy="389.46" r="2.42"/>
<circle cx="64.68" cy="352.85" r="2.42"/>
<circle cx="66.77" cy="288.07" r="2.42"/>
<circle cx="68.76" cy="266.94" r="2.42"/>
<circle cx="70.65" cy="299.5" r="2.42"/>
<circle cx="73" cy="331.77" r="2.42"/>
<circle cx="75.1" cy="347.73" r="2.42"/>
<circle cx="77.2" cy="357.13" r="2.42"/>
<circle cx="79.29" cy="363.12" r="2.42"/>
<circle cx="81.39" cy="367.3" r="2.42"/>
<circle cx="83.49" cy="370.84" r="2.42"/>
<circle cx="85.59" cy="373.09" r="2.42"/>
<circle cx="87.68" cy="374.81" r="2.42"/>
<circle cx="89.78" cy="376.41" r="2.42"/>
<circle cx="91.88" cy="378.06" r="2.42"/>
<circle cx="93.98" cy="379.59" r="2.42"/>
<circle cx="96.07" cy="380.92" r="2.42"/>
<circle cx="98.17" cy="382.06" r="2.42"/>
<circle cx="100.27" cy="383.07" r="2.42"/>
<circle cx="102.37" cy="384.05" r="2.42"/>
<circle cx="104.46" cy="385.02" r="2.42"/>
<circle cx="106.56" cy="385.94" r="2.42"/>
<circle cx="108.66" cy="386.81" r="2.42"/>
<circle cx="110.76" cy="387.63" r="2.42"/>
<circle cx="112.85" cy="388.4" r="2.42"/>
<circle cx="114.95" cy="389.12" r="2.42"/>
<circle cx="117.05" cy="389.79" r="2.42"/>
<circle cx="119.14" cy="390.42" r="2.42"/>
<circle cx="121.24" cy="391" r="2.42"/>
<circle cx="123.34" cy="391.54" r="2.42"/>
<circle cx="125.44" cy="392.03" r="2.42"/>
<circle cx="127.53" cy="392.48" r="2.42"/>
<circle cx="129.63" cy="392.88" r="2.42"/>
<circle cx="131.73" cy="393.26" r="2.42"/>
<circle cx="133.83" cy="393.61" r="2.42"/>
<circle cx="135.92" cy="393.92" r="2.42"/>
<circle cx="138.02" cy="394.18" r="2.42"/>
<circle cx="140.12" cy="394.41" r="2.42"/>
<circle cx="142.22" cy="394.6" r="2.42"/>
<circle cx="144.31" cy="394.76" r="2.42"/>
<circle cx="146.41" cy="394.91" r="2.42"/>
<circle cx="148.51" cy="395.03" r="2.42"/>
<circle cx="150.6" cy="395.15" r="2.42"/>
<circle cx="152.7" cy="395.25" r="2.42"/>
<circle cx="154.8" cy="395.33" r="2.42"/>
<circle cx="156.9" cy="395.41" r="2.42"/>
<circle cx="158.99" cy="395.48" r="2.42"/>
<circle cx="161.09" cy="395.54" r="2.42"/>
<circle cx="163.19" cy="395.6" r="2.42"/>
<circle cx="165.29" cy="395.66" r="2.42"/>
<circle cx="167.38" cy="395.71" r="2.42"/>
<circle cx="169.48" cy="395.76" r="2.42"/>
<circle cx="171.58" cy="395.81" r="2.42"/>
<circle cx="173.68" cy="395.86" r="2.42"/>
<circle cx="175.77" cy="395.9" r="2.42"/>
<circle cx="177.87" cy="395.94" r="2.42"/>
<circle cx="179.97" cy="395.98" r="2.42"/>
<circle cx="182.06" cy="396.02" r="2.42"/>
<circle cx="184.16" cy="396.05" r="2.42"/>
<circle cx="186.26" cy="396.08" r="2.42"/>
<circle cx="188.36" cy="396.11" r="2.42"/>
<circle cx="190.45" cy="396.14" r="2.42"/>
<circle cx="192.55" cy="396.17" r="2.42"/>
<circle cx="194.65" cy="396.2" r="2.42"/>
<circle cx="196.75" cy="396.22" r="2.42"/>
<circle cx="198.84" cy="396.24" r="2.42"/>
<circle cx="200.94" cy="396.27" r="2.42"/>
<circle cx="203.04" cy="396.29" r="2.42"/>
<circle cx="205.14" cy="396.3" r="2.42"/>
<circle cx="207.23" cy="396.32" r="2.42"/>
<circle cx="209.33" cy="396.34" r="2.42"/>
<circle cx="211.43" cy="396.36" r="2.42"/>
<circle cx="213.53" cy="396.37" r="2.42"/>
</g>
<rect x="35.3" y="253.8" width="199.4" height="157.2" fill="none" stroke="#444" stroke-width="1"/>
<path d="M34.8 253.9 H235.2" stroke="#5a5a5a" stroke-width="1.7"/>
<path d="M35.3 396.6 h3.2 M35.3 368.04 h3.2 M35.3 339.48 h3.2 M35.3 310.92 h3.2 M35.3 282.36 h3.2 M35.3 253.8 h3.2 M35.3 382.32 h1.7 M35.3 353.76 h1.7 M35.3 325.2 h1.7 M35.3 296.64 h1.7 M35.3 268.08 h1.7 M56.4 411 v-3.2 M98.3 411 v-3.2 M140.2 411 v-3.2 M182.1 411 v-3.2 M224 411 v-3.2 M77.35 411 v-1.7 M119.25 411 v-1.7 M161.15 411 v-1.7 M203.05 411 v-1.7" stroke="#444" stroke-width="1" fill="none"/>
<g font-family="'Liberation Sans', Arial, sans-serif" font-size="8.5" fill="#111" stroke="#111" stroke-width="0.22">
<text transform="translate(31.7 399.35) scale(0.9 1)" text-anchor="end">0</text>
<text transform="translate(31.7 370.79) scale(0.9 1)" text-anchor="end">1,000</text>
<text transform="translate(31.7 342.23) scale(0.9 1)" text-anchor="end">2,000</text>
<text transform="translate(31.7 313.67) scale(0.9 1)" text-anchor="end">3,000</text>
<text transform="translate(31.7 285.11) scale(0.9 1)" text-anchor="end">4,000</text>
<text transform="translate(31.7 256.55) scale(0.9 1)" text-anchor="end">5,000</text>
<text transform="translate(56.4 421.1) scale(0.9 1)" text-anchor="middle">0</text>
<text transform="translate(98.3 421.1) scale(0.9 1)" text-anchor="middle">40</text>
<text transform="translate(140.2 421.1) scale(0.9 1)" text-anchor="middle">80</text>
<text transform="translate(182.1 421.1) scale(0.9 1)" text-anchor="middle">120</text>
<text transform="translate(224 421.1) scale(0.9 1)" text-anchor="middle">160</text>
<text transform="translate(9.2 332.4) rotate(-90) scale(0.9 1)" text-anchor="middle">Current (µA)</text>
</g>
<g font-family="'Liberation Serif', 'Times New Roman', serif" font-size="7.7" fill="#111" stroke="#111" stroke-width="0.3">
<text x="135.4" y="434.2" text-anchor="middle">Time (ps)</text>
<g font-size="7.7">
<text x="160" y="268.5">DE model</text>
<text x="160" y="278.1">PDE model</text>
<text x="160" y="287.9">Simulated (TCAD)</text>
</g>
</g>
<path d="M140.5 265.6 h17.7" stroke="#303030" stroke-width="1.55"/>
<path d="M140.5 275.2 h17.7" stroke="#f23030" stroke-width="1.55"/>
<circle cx="149.55" cy="284.9" r="2.42" fill="none" stroke="#2b72e6" stroke-width="1.15"/>
<text x="129.5" y="468.5" text-anchor="middle" font-family="'Liberation Serif', serif" font-size="11.5" fill="#111">(<tspan font-weight="bold">c</tspan>)</text>
</g>
</svg>
</body></html>
